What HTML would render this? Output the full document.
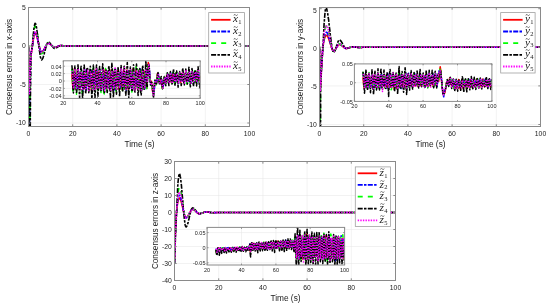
<!DOCTYPE html>
<html><head><meta charset="utf-8"><title>Consensus errors</title>
<style>
html,body{margin:0;padding:0;background:#fff;}
svg{display:block;font-family:"Liberation Sans","DejaVu Sans",sans-serif;}
</style></head><body>
<svg width="550" height="307" viewBox="0 0 550 307">
<rect width="550" height="307" fill="#fff"/>
<clipPath id="c1"><rect x="28.5" y="7.5" width="221.0" height="119.0"/></clipPath>
<rect x="28.5" y="7.5" width="221.0" height="119.0" fill="#fff"/>
<path d="M72.7 7.5V126.5M116.9 7.5V126.5M161.1 7.5V126.5M205.3 7.5V126.5M28.5 46H249.5M28.5 84.5H249.5M28.5 123H249.5" stroke="#e4e4e4" stroke-width="0.5" fill="none"/>
<path d="M28.5 46.8L28.5 51L28.6 55.3L28.6 59.6L28.7 63.8L28.7 67.9L28.8 71.9L28.8 75.6L28.9 79.1L28.9 82.3L28.9 85.1L29 87.5L29 89.5L29.1 91L29.1 91.9L29.2 92.2L29.2 92.1L29.3 91.9L29.3 91.6L29.3 91.2L29.4 90.6L29.4 90L29.5 89.2L29.5 88.4L29.6 87.5L29.6 86.5L29.6 85.4L29.7 84.3L29.7 83.1L29.8 81.9L29.8 80.7L29.9 79.4L29.9 78.1L30 76.8L30 75.4L30 74.1L30.1 72.7L30.1 71.4L30.2 70.1L30.2 68.8L30.3 67.6L30.3 66.3L30.4 65.2L30.4 64.1L30.4 63L30.5 62L30.5 61.1L30.6 60.3L30.6 59.5L30.7 58.9L30.7 58.3L30.8 57.8L30.8 57.4L30.8 56.9L30.9 56.5L30.9 56L31 55.6L31 55.2L31.1 54.8L31.1 54.5L31.2 54.1L31.2 53.7L31.2 53.4L31.3 53.1L31.3 52.7L31.4 52.4L31.4 52.1L31.5 51.8L31.5 51.5L31.5 51.2L31.6 50.9L31.6 50.6L31.7 50.3L31.7 50.1L31.8 49.8L31.8 49.5L31.9 49.2L31.9 49L31.9 48.7L32 48.4L32 48.1L32.1 47.9L32.1 47.6L32.2 47.3L32.2 47L32.3 46.7L32.3 46.4L32.3 46.2L32.4 45.8L32.4 45.5L32.5 45.2L32.5 44.9L32.6 44.6L32.6 44.3L32.7 44L32.7 43.6L32.7 43.3L32.8 43L32.8 42.7L32.9 42.4L32.9 42L33.1 40.5L33.4 39.1L33.6 37.8L33.8 36.9L34 36L34.2 35.2L34.5 34.5L34.7 33.8L34.9 33.4L35.1 33.3L35.4 33.4L35.6 33.5L35.8 33.8L36 34.3L36.2 34.8L36.5 35.3L36.7 36L36.9 36.7L37.1 37.5L37.3 38.4L37.6 39.3L37.8 40.2L38 41.1L38.2 42.1L38.4 43L38.7 44L38.9 44.9L39.1 45.8L39.3 46.7L39.6 47.5L39.8 48.3L40 49.1L40.2 49.7L40.4 50.3L40.7 50.8L40.9 51.2L41.1 51.5L41.3 51.7L41.5 51.8L41.8 51.7L42 51.7L42.2 51.6L42.4 51.4L42.6 51.2L42.9 51L43.1 50.7L43.3 50.4L43.5 50.1L43.7 49.7L44 49.4L44.2 49L44.4 48.6L44.6 48.2L44.9 47.8L45.1 47.4L45.3 47L45.5 46.6L45.7 46.2L46 45.8L46.2 45.5L46.4 45.1L46.6 44.8L46.8 44.5L47.1 44.2L47.3 44L47.5 43.8L47.7 43.6L47.9 43.5L48.2 43.4L48.4 43.4L48.6 43.4L48.8 43.5L49.1 43.5L49.3 43.6L49.5 43.7L49.7 43.9L49.9 44L50.2 44.2L50.4 44.3L50.6 44.5L50.8 44.7L51 44.9L51.3 45.1L51.5 45.3L51.7 45.5L51.9 45.7L52.1 45.9L52.4 46.1L52.6 46.3L52.8 46.5L53 46.6L53.3 46.8L53.5 46.9L53.7 47L53.9 47.1L54.1 47.2L54.4 47.2L54.6 47.2L54.8 47.2L55 47.2L55.2 47.2L55.5 47.1L55.7 47.1L55.9 47L56.1 47L56.3 46.9L56.6 46.8L56.8 46.7L57 46.6L57.2 46.6L57.5 46.5L57.7 46.4L57.9 46.3L58.1 46.2L58.3 46.1L58.6 46L58.8 45.9L59 45.9L59.2 45.8L59.4 45.7L59.7 45.7L59.9 45.6L60.1 45.6L60.3 45.6L60.5 45.5L60.8 45.5L61 45.5L61.2 45.5L61.4 45.6L61.7 45.6L61.9 45.6L62.1 45.6L62.3 45.6L62.5 45.7L62.8 45.7L63 45.7L63.2 45.7L63.4 45.8L63.6 45.8L63.9 45.8L64.1 45.9L64.3 45.9L64.5 45.9L64.7 46L65 46L65.2 46L65.4 46L65.6 46.1L65.8 46.1L66.1 46.1L66.3 46.1L66.5 46.1L66.7 46.1L67 46.2L67.2 46.2L67.4 46.2L67.6 46.2L67.8 46.1L68.1 46.1L68.3 46.1L68.5 46.1L68.7 46.1L68.9 46.1L69.2 46.1L69.4 46.1L69.6 46.1L69.8 46.1L70 46.1L70.3 46.1L70.5 46.1L70.7 46L70.9 46L71.2 46L71.4 46L71.6 46L71.8 46L72 46L72.3 46L72.5 46L72.7 46L77.1 46L81.5 46L86 46L90.4 46L94.8 46L99.2 46L103.6 46L108.1 46L112.5 46L116.9 46L121.3 46L125.7 46L130.2 46L134.6 46L139 46L143.4 46L147.8 46L152.3 46L156.7 46L161.1 46L165.5 46L169.9 46L174.4 46L178.8 46L183.2 46L187.6 46L192 46L196.5 46L200.9 46L205.3 46L209.7 46L214.1 46L218.6 46L223 46L227.4 46L231.8 46L236.2 46L240.7 46L245.1 46L249.5 46" fill="none" stroke="#ff0000" stroke-width="1.6" stroke-linejoin="round" clip-path="url(#c1)"/>
<path d="M28.5 47.5L28.5 70.3L28.6 94L28.6 116.5L28.7 135.4L28.7 148.6L28.8 153.8L28.8 154.2L28.9 154.6L28.9 155L28.9 155.3L29 155.6L29 155.9L29.1 156.1L29.1 156.4L29.2 156.6L29.2 156.8L29.3 156.9L29.3 157.1L29.3 157.2L29.4 157.3L29.4 157.4L29.5 157.5L29.5 157.5L29.6 157.6L29.6 157.6L29.6 157.6L29.7 157.6L29.7 157.3L29.8 154.4L29.8 149.2L29.9 142.3L29.9 134.2L30 125.3L30 116.4L30 107.9L30.1 100.4L30.1 94.4L30.2 90.3L30.2 86.4L30.3 82.7L30.3 79.1L30.4 75.7L30.4 72.5L30.4 69.5L30.5 66.8L30.5 64.4L30.6 62.3L30.6 60.5L30.7 59.2L30.7 58.3L30.8 57.7L30.8 57L30.8 56.5L30.9 55.9L30.9 55.4L31 54.9L31 54.4L31.1 54L31.1 53.5L31.2 53.1L31.2 52.8L31.2 52.4L31.3 52.1L31.3 51.8L31.4 51.5L31.4 51.2L31.5 50.9L31.5 50.7L31.5 50.4L31.6 50.2L31.6 49.9L31.7 49.7L31.7 49.5L31.8 49.3L31.8 49.1L31.9 48.8L31.9 48.6L31.9 48.4L32 48.2L32 48L32.1 47.7L32.1 47.5L32.2 47.3L32.2 47L32.3 46.7L32.3 46.5L32.3 46.2L32.4 45.8L32.4 45.5L32.5 45.2L32.5 44.9L32.6 44.5L32.6 44.2L32.7 43.9L32.7 43.5L32.7 43.2L32.8 42.9L32.8 42.5L32.9 42.2L32.9 41.8L33.1 40.2L33.4 38.7L33.6 37.3L33.8 36.3L34 35.4L34.2 34.5L34.5 33.8L34.7 33.1L34.9 32.7L35.1 32.5L35.4 32.6L35.6 32.8L35.8 33.1L36 33.5L36.2 34.1L36.5 34.7L36.7 35.4L36.9 36.2L37.1 37L37.3 37.9L37.6 38.9L37.8 39.8L38 40.8L38.2 41.8L38.4 42.9L38.7 43.9L38.9 44.9L39.1 45.8L39.3 46.8L39.6 47.7L39.8 48.5L40 49.3L40.2 50L40.4 50.6L40.7 51.1L40.9 51.6L41.1 51.9L41.3 52.1L41.5 52.2L41.8 52.1L42 52.1L42.2 51.9L42.4 51.8L42.6 51.5L42.9 51.3L43.1 51L43.3 50.7L43.5 50.4L43.7 50L44 49.6L44.2 49.2L44.4 48.8L44.6 48.4L44.9 47.9L45.1 47.5L45.3 47.1L45.5 46.7L45.7 46.3L46 45.9L46.2 45.5L46.4 45.1L46.6 44.8L46.8 44.5L47.1 44.2L47.3 43.9L47.5 43.7L47.7 43.5L47.9 43.4L48.2 43.3L48.4 43.3L48.6 43.3L48.8 43.4L49.1 43.4L49.3 43.5L49.5 43.6L49.7 43.8L49.9 43.9L50.2 44.1L50.4 44.3L50.6 44.5L50.8 44.7L51 44.9L51.3 45.1L51.5 45.3L51.7 45.5L51.9 45.7L52.1 45.9L52.4 46.1L52.6 46.3L52.8 46.5L53 46.7L53.3 46.8L53.5 46.9L53.7 47.1L53.9 47.1L54.1 47.2L54.4 47.3L54.6 47.3L54.8 47.3L55 47.2L55.2 47.2L55.5 47.2L55.7 47.1L55.9 47.1L56.1 47L56.3 46.9L56.6 46.9L56.8 46.8L57 46.7L57.2 46.6L57.5 46.5L57.7 46.4L57.9 46.3L58.1 46.2L58.3 46.1L58.6 46L58.8 46L59 45.9L59.2 45.8L59.4 45.7L59.7 45.7L59.9 45.6L60.1 45.6L60.3 45.6L60.5 45.5L60.8 45.5L61 45.5L61.2 45.5L61.4 45.6L61.7 45.6L61.9 45.6L62.1 45.6L62.3 45.6L62.5 45.7L62.8 45.7L63 45.7L63.2 45.7L63.4 45.8L63.6 45.8L63.9 45.8L64.1 45.9L64.3 45.9L64.5 45.9L64.7 46L65 46L65.2 46L65.4 46L65.6 46.1L65.8 46.1L66.1 46.1L66.3 46.1L66.5 46.1L66.7 46.1L67 46.2L67.2 46.2L67.4 46.2L67.6 46.2L67.8 46.1L68.1 46.1L68.3 46.1L68.5 46.1L68.7 46.1L68.9 46.1L69.2 46.1L69.4 46.1L69.6 46.1L69.8 46.1L70 46.1L70.3 46.1L70.5 46.1L70.7 46L70.9 46L71.2 46L71.4 46L71.6 46L71.8 46L72 46L72.3 46L72.5 46L72.7 46L77.1 46L81.5 46L86 46L90.4 46L94.8 46L99.2 46L103.6 46L108.1 46L112.5 46L116.9 46L121.3 46L125.7 46L130.2 46L134.6 46L139 46L143.4 46L147.8 46L152.3 46L156.7 46L161.1 46L165.5 46L169.9 46L174.4 46L178.8 46L183.2 46L187.6 46L192 46L196.5 46L200.9 46L205.3 46L209.7 46L214.1 46L218.6 46L223 46L227.4 46L231.8 46L236.2 46L240.7 46L245.1 46L249.5 46" fill="none" stroke="#0000ff" stroke-width="1.6" stroke-dasharray="5 1.3 2.5 1.3" stroke-linejoin="round" clip-path="url(#c1)"/>
<path d="M28.5 45.2L28.5 79.8L28.6 115L28.6 142.5L28.7 153.8L28.7 154.3L28.8 154.7L28.8 155L28.9 155.4L28.9 155.7L28.9 156L29 156.3L29 156.5L29.1 156.7L29.1 156.9L29.2 157L29.2 157.2L29.3 157.3L29.3 157.4L29.3 157.5L29.4 157.5L29.4 157.6L29.5 157.6L29.5 157.6L29.6 157.6L29.6 157.7L29.6 156.4L29.7 153L29.7 147.9L29.8 141.4L29.8 133.9L29.9 125.9L29.9 117.8L30 110L30 102.8L30 96.8L30.1 92.2L30.1 88.6L30.2 85L30.2 81.5L30.3 78.1L30.3 74.9L30.4 71.8L30.4 69L30.4 66.4L30.5 64.1L30.5 62.1L30.6 60.5L30.6 59.2L30.7 58.3L30.7 57.7L30.8 57.1L30.8 56.5L30.8 56L30.9 55.5L30.9 55L31 54.6L31 54.2L31.1 53.8L31.1 53.4L31.2 53L31.2 52.7L31.2 52.4L31.3 52.1L31.3 51.8L31.4 51.6L31.4 51.3L31.5 51.1L31.5 50.9L31.5 50.6L31.6 50.4L31.6 50.2L31.7 50L31.7 49.8L31.8 49.6L31.8 49.4L31.9 49.2L31.9 49L31.9 48.7L32 48.5L32 48.3L32.1 48L32.1 47.8L32.2 47.5L32.2 47.2L32.3 46.9L32.3 46.5L32.3 46.2L32.4 45.8L32.4 45.4L32.5 45L32.5 44.6L32.6 44.1L32.6 43.7L32.7 43.2L32.7 42.7L32.7 42.3L32.8 41.8L32.8 41.3L32.9 40.8L32.9 40.2L33.1 37.7L33.4 35.3L33.6 33.2L33.8 31.6L34 30.3L34.2 29L34.5 27.8L34.7 26.9L34.9 26.2L35.1 26L35.4 26.1L35.6 26.4L35.8 26.8L36 27.4L36.2 28.2L36.5 29L36.7 30L36.9 31.1L37.1 32.3L37.3 33.6L37.6 34.9L37.8 36.3L38 37.7L38.2 39.1L38.4 40.6L38.7 42L38.9 43.4L39.1 44.8L39.3 46.1L39.6 47.3L39.8 48.5L40 49.6L40.2 50.6L40.4 51.5L40.7 52.3L40.9 52.9L41.1 53.3L41.3 53.6L41.5 53.7L41.8 53.7L42 53.6L42.2 53.4L42.4 53.2L42.6 52.9L42.9 52.6L43.1 52.2L43.3 51.8L43.5 51.4L43.7 50.9L44 50.5L44.2 49.9L44.4 49.4L44.6 48.9L44.9 48.3L45.1 47.8L45.3 47.3L45.5 46.7L45.7 46.2L46 45.7L46.2 45.2L46.4 44.7L46.6 44.3L46.8 43.9L47.1 43.6L47.3 43.2L47.5 43L47.7 42.7L47.9 42.6L48.2 42.5L48.4 42.5L48.6 42.5L48.8 42.5L49.1 42.6L49.3 42.7L49.5 42.9L49.7 43L49.9 43.2L50.2 43.5L50.4 43.7L50.6 43.9L50.8 44.2L51 44.4L51.3 44.7L51.5 45L51.7 45.2L51.9 45.5L52.1 45.8L52.4 46L52.6 46.3L52.8 46.5L53 46.7L53.3 46.9L53.5 47.1L53.7 47.2L53.9 47.3L54.1 47.4L54.4 47.5L54.6 47.5L54.8 47.5L55 47.5L55.2 47.4L55.5 47.4L55.7 47.3L55.9 47.3L56.1 47.2L56.3 47.1L56.6 47L56.8 46.9L57 46.8L57.2 46.7L57.5 46.6L57.7 46.5L57.9 46.4L58.1 46.3L58.3 46.2L58.6 46.1L58.8 46L59 45.9L59.2 45.8L59.4 45.8L59.7 45.7L59.9 45.6L60.1 45.6L60.3 45.6L60.5 45.5L60.8 45.5L61 45.5L61.2 45.5L61.4 45.6L61.7 45.6L61.9 45.6L62.1 45.6L62.3 45.6L62.5 45.7L62.8 45.7L63 45.7L63.2 45.7L63.4 45.8L63.6 45.8L63.9 45.8L64.1 45.9L64.3 45.9L64.5 45.9L64.7 46L65 46L65.2 46L65.4 46L65.6 46.1L65.8 46.1L66.1 46.1L66.3 46.1L66.5 46.1L66.7 46.1L67 46.2L67.2 46.2L67.4 46.2L67.6 46.2L67.8 46.1L68.1 46.1L68.3 46.1L68.5 46.1L68.7 46.1L68.9 46.1L69.2 46.1L69.4 46.1L69.6 46.1L69.8 46.1L70 46.1L70.3 46.1L70.5 46.1L70.7 46L70.9 46L71.2 46L71.4 46L71.6 46L71.8 46L72 46L72.3 46L72.5 46L72.7 46L77.1 46L81.5 46L86 46L90.4 46L94.8 46L99.2 46L103.6 46L108.1 46L112.5 46L116.9 46L121.3 46L125.7 46L130.2 46L134.6 46L139 46L143.4 46L147.8 46L152.3 46L156.7 46L161.1 46L165.5 46L169.9 46L174.4 46L178.8 46L183.2 46L187.6 46L192 46L196.5 46L200.9 46L205.3 46L209.7 46L214.1 46L218.6 46L223 46L227.4 46L231.8 46L236.2 46L240.7 46L245.1 46L249.5 46" fill="none" stroke="#00ff00" stroke-width="1.6" stroke-dasharray="5 5.1" stroke-linejoin="round" clip-path="url(#c1)"/>
<path d="M28.5 47.2L28.5 57.4L28.6 67.7L28.6 77.8L28.7 87.7L28.7 97.2L28.8 106.3L28.8 114.9L28.9 122.9L28.9 130.1L28.9 136.6L29 142.2L29 146.8L29.1 150.3L29.1 152.7L29.2 153.8L29.2 154.2L29.3 154.6L29.3 155L29.3 155.4L29.4 155.7L29.4 156L29.5 156.3L29.5 156.5L29.6 156.7L29.6 156.9L29.6 157.1L29.7 157.3L29.7 157.4L29.8 157.5L29.8 157.6L29.9 157.6L29.9 157.6L30 157.4L30 155.7L30 152.5L30.1 148L30.1 142.5L30.2 136.3L30.2 129.6L30.3 122.6L30.3 115.6L30.4 108.8L30.4 102.5L30.4 96.8L30.5 92.2L30.5 88L30.6 83.7L30.6 79.4L30.7 75.2L30.7 71.2L30.8 67.5L30.8 64.2L30.8 61.6L30.9 59.5L30.9 58.3L31 57.6L31 56.8L31.1 56.2L31.1 55.6L31.2 55L31.2 54.4L31.2 53.9L31.3 53.5L31.3 53.1L31.4 52.7L31.4 52.3L31.5 51.9L31.5 51.6L31.5 51.3L31.6 51L31.6 50.8L31.7 50.5L31.7 50.2L31.8 50L31.8 49.8L31.9 49.5L31.9 49.3L31.9 49L32 48.8L32 48.5L32.1 48.3L32.1 48L32.2 47.7L32.2 47.3L32.3 47L32.3 46.6L32.3 46.2L32.4 45.8L32.4 45.3L32.5 44.9L32.5 44.4L32.6 43.9L32.6 43.3L32.7 42.8L32.7 42.3L32.7 41.7L32.8 41.2L32.8 40.6L32.9 40L32.9 39.4L33.1 36.6L33.4 33.8L33.6 31.5L33.8 29.6L34 28.1L34.2 26.7L34.5 25.4L34.7 24.3L34.9 23.6L35.1 23.3L35.4 23.4L35.6 23.8L35.8 24.4L36 25.2L36.2 26.2L36.5 27.3L36.7 28.6L36.9 30.1L37.1 31.7L37.3 33.3L37.6 35.1L37.8 36.9L38 38.7L38.2 40.6L38.4 42.5L38.7 44.4L38.9 46.3L39.1 48.1L39.3 49.8L39.6 51.5L39.8 53L40 54.5L40.2 55.8L40.4 57L40.7 58L40.9 58.8L41.1 59.4L41.3 59.7L41.5 59.9L41.8 59.8L42 59.6L42.2 59.4L42.4 59L42.6 58.6L42.9 58.1L43.1 57.6L43.3 56.9L43.5 56.2L43.7 55.5L44 54.7L44.2 53.9L44.4 53.1L44.6 52.3L44.9 51.4L45.1 50.6L45.3 49.7L45.5 48.8L45.7 48L46 47.2L46.2 46.5L46.4 45.7L46.6 45L46.8 44.4L47.1 43.8L47.3 43.3L47.5 42.9L47.7 42.6L47.9 42.3L48.2 42.2L48.4 42.1L48.6 42.1L48.8 42.2L49.1 42.3L49.3 42.4L49.5 42.6L49.7 42.8L49.9 43.1L50.2 43.3L50.4 43.6L50.6 43.9L50.8 44.2L51 44.6L51.3 44.9L51.5 45.2L51.7 45.6L51.9 45.9L52.1 46.2L52.4 46.6L52.6 46.9L52.8 47.1L53 47.4L53.3 47.6L53.5 47.9L53.7 48L53.9 48.2L54.1 48.3L54.4 48.4L54.6 48.4L54.8 48.4L55 48.3L55.2 48.3L55.5 48.2L55.7 48.1L55.9 48.1L56.1 47.9L56.3 47.8L56.6 47.7L56.8 47.6L57 47.4L57.2 47.3L57.5 47.1L57.7 47L57.9 46.8L58.1 46.7L58.3 46.5L58.6 46.4L58.8 46.2L59 46.1L59.2 46L59.4 45.9L59.7 45.8L59.9 45.7L60.1 45.6L60.3 45.6L60.5 45.5L60.8 45.5L61 45.5L61.2 45.5L61.4 45.6L61.7 45.6L61.9 45.6L62.1 45.6L62.3 45.6L62.5 45.7L62.8 45.7L63 45.7L63.2 45.7L63.4 45.8L63.6 45.8L63.9 45.8L64.1 45.9L64.3 45.9L64.5 45.9L64.7 46L65 46L65.2 46L65.4 46L65.6 46.1L65.8 46.1L66.1 46.1L66.3 46.1L66.5 46.1L66.7 46.1L67 46.2L67.2 46.2L67.4 46.2L67.6 46.2L67.8 46.1L68.1 46.1L68.3 46.1L68.5 46.1L68.7 46.1L68.9 46.1L69.2 46.1L69.4 46.1L69.6 46.1L69.8 46.1L70 46.1L70.3 46.1L70.5 46.1L70.7 46L70.9 46L71.2 46L71.4 46L71.6 46L71.8 46L72 46L72.3 46L72.5 46L72.7 46L77.1 46L81.5 46L86 46L90.4 46L94.8 46L99.2 46L103.6 46L108.1 46L112.5 46L116.9 46L121.3 46L125.7 46L130.2 46L134.6 46L139 46L143.4 46L147.8 46L152.3 46L156.7 46L161.1 46L165.5 46L169.9 46L174.4 46L178.8 46L183.2 46L187.6 46L192 46L196.5 46L200.9 46L205.3 46L209.7 46L214.1 46L218.6 46L223 46L227.4 46L231.8 46L236.2 46L240.7 46L245.1 46L249.5 46" fill="none" stroke="#000000" stroke-width="1.6" stroke-dasharray="5 1.3 2.5 1.3" stroke-linejoin="round" clip-path="url(#c1)"/>
<path d="M28.5 46L28.5 50L28.6 54L28.6 58L28.7 61.9L28.7 65.7L28.8 69.4L28.8 73L28.9 76.3L28.9 79.4L28.9 82.3L29 85L29 87.3L29.1 89.4L29.1 91L29.2 92.3L29.2 93.2L29.3 93.7L29.3 93.7L29.3 93.6L29.4 93.3L29.4 92.8L29.5 92.3L29.5 91.6L29.6 90.8L29.6 89.9L29.6 88.9L29.7 87.8L29.7 86.6L29.8 85.4L29.8 84.1L29.9 82.8L29.9 81.4L30 80L30 78.6L30 77.1L30.1 75.6L30.1 74.2L30.2 72.7L30.2 71.2L30.3 69.8L30.3 68.4L30.4 67.1L30.4 65.8L30.4 64.6L30.5 63.4L30.5 62.3L30.6 61.3L30.6 60.4L30.7 59.6L30.7 58.9L30.8 58.3L30.8 57.8L30.8 57.3L30.9 56.9L30.9 56.4L31 56L31 55.5L31.1 55.1L31.1 54.7L31.2 54.4L31.2 54L31.2 53.6L31.3 53.3L31.3 53L31.4 52.6L31.4 52.3L31.5 52L31.5 51.7L31.5 51.4L31.6 51.1L31.6 50.8L31.7 50.5L31.7 50.2L31.8 50L31.8 49.7L31.9 49.4L31.9 49.1L31.9 48.8L32 48.6L32 48.3L32.1 48L32.1 47.7L32.2 47.4L32.2 47.1L32.3 46.8L32.3 46.5L32.3 46.2L32.4 45.8L32.4 45.5L32.5 45.2L32.5 44.8L32.6 44.4L32.6 44.1L32.7 43.7L32.7 43.4L32.7 43L32.8 42.6L32.8 42.3L32.9 41.9L32.9 41.5L33.1 39.7L33.4 38.1L33.6 36.6L33.8 35.5L34 34.5L34.2 33.6L34.5 32.7L34.7 32L34.9 31.5L35.1 31.4L35.4 31.4L35.6 31.7L35.8 32L36 32.5L36.2 33L36.5 33.7L36.7 34.5L36.9 35.3L37.1 36.2L37.3 37.2L37.6 38.2L37.8 39.2L38 40.3L38.2 41.4L38.4 42.5L38.7 43.6L38.9 44.7L39.1 45.7L39.3 46.7L39.6 47.7L39.8 48.6L40 49.4L40.2 50.2L40.4 50.9L40.7 51.4L40.9 51.9L41.1 52.3L41.3 52.5L41.5 52.5L41.8 52.5L42 52.4L42.2 52.3L42.4 52.1L42.6 51.9L42.9 51.6L43.1 51.3L43.3 51L43.5 50.6L43.7 50.2L44 49.8L44.2 49.4L44.4 49L44.6 48.5L44.9 48.1L45.1 47.6L45.3 47.2L45.5 46.7L45.7 46.3L46 45.9L46.2 45.5L46.4 45.1L46.6 44.7L46.8 44.4L47.1 44.1L47.3 43.8L47.5 43.6L47.7 43.4L47.9 43.3L48.2 43.2L48.4 43.2L48.6 43.2L48.8 43.2L49.1 43.3L49.3 43.4L49.5 43.5L49.7 43.7L49.9 43.8L50.2 44L50.4 44.2L50.6 44.4L50.8 44.6L51 44.8L51.3 45L51.5 45.2L51.7 45.5L51.9 45.7L52.1 45.9L52.4 46.1L52.6 46.3L52.8 46.5L53 46.7L53.3 46.8L53.5 47L53.7 47.1L53.9 47.2L54.1 47.3L54.4 47.3L54.6 47.3L54.8 47.3L55 47.3L55.2 47.3L55.5 47.2L55.7 47.2L55.9 47.1L56.1 47.1L56.3 47L56.6 46.9L56.8 46.8L57 46.7L57.2 46.6L57.5 46.5L57.7 46.4L57.9 46.3L58.1 46.2L58.3 46.2L58.6 46.1L58.8 46L59 45.9L59.2 45.8L59.4 45.7L59.7 45.7L59.9 45.6L60.1 45.6L60.3 45.6L60.5 45.5L60.8 45.5L61 45.5L61.2 45.5L61.4 45.6L61.7 45.6L61.9 45.6L62.1 45.6L62.3 45.6L62.5 45.7L62.8 45.7L63 45.7L63.2 45.7L63.4 45.8L63.6 45.8L63.9 45.8L64.1 45.9L64.3 45.9L64.5 45.9L64.7 46L65 46L65.2 46L65.4 46L65.6 46.1L65.8 46.1L66.1 46.1L66.3 46.1L66.5 46.1L66.7 46.1L67 46.2L67.2 46.2L67.4 46.2L67.6 46.2L67.8 46.1L68.1 46.1L68.3 46.1L68.5 46.1L68.7 46.1L68.9 46.1L69.2 46.1L69.4 46.1L69.6 46.1L69.8 46.1L70 46.1L70.3 46.1L70.5 46.1L70.7 46L70.9 46L71.2 46L71.4 46L71.6 46L71.8 46L72 46L72.3 46L72.5 46L72.7 46L77.1 46L81.5 46L86 46L90.4 46L94.8 46L99.2 46L103.6 46L108.1 46L112.5 46L116.9 46L121.3 46L125.7 46L130.2 46L134.6 46L139 46L143.4 46L147.8 46L152.3 46L156.7 46L161.1 46L165.5 46L169.9 46L174.4 46L178.8 46L183.2 46L187.6 46L192 46L196.5 46L200.9 46L205.3 46L209.7 46L214.1 46L218.6 46L223 46L227.4 46L231.8 46L236.2 46L240.7 46L245.1 46L249.5 46" fill="none" stroke="#ff00ff" stroke-width="1.6" stroke-dasharray="1.4 1.2" stroke-linejoin="round" clip-path="url(#c1)"/>
<path d="M28.5 126.5v-2.2M28.5 7.5v2.2M72.7 126.5v-2.2M72.7 7.5v2.2M116.9 126.5v-2.2M116.9 7.5v2.2M161.1 126.5v-2.2M161.1 7.5v2.2M205.3 126.5v-2.2M205.3 7.5v2.2M249.5 126.5v-2.2M249.5 7.5v2.2M28.5 7.5h2.2M249.5 7.5h-2.2M28.5 46h2.2M249.5 46h-2.2M28.5 84.5h2.2M249.5 84.5h-2.2M28.5 123h2.2M249.5 123h-2.2" stroke="#8a8a8a" stroke-width="1" fill="none"/>
<rect x="28.5" y="7.5" width="221.0" height="119.0" fill="none" stroke="#8a8a8a" stroke-width="1"/>
<g font-size="6.8" fill="#222222" text-anchor="middle">
<text x="28.5" y="136.2">0</text>
<text x="72.7" y="136.2">20</text>
<text x="116.9" y="136.2">40</text>
<text x="161.1" y="136.2">60</text>
<text x="205.3" y="136.2">80</text>
<text x="249.5" y="136.2">100</text>
</g>
<g font-size="6.8" fill="#222222" text-anchor="end">
<text x="25.8" y="9.9">5</text>
<text x="25.8" y="48.4">0</text>
<text x="25.8" y="86.9">-5</text>
<text x="25.8" y="125.4">-10</text>
</g>
<text x="139.5" y="147.1" font-size="8.3" fill="#222222" text-anchor="middle">Time (s)</text>
<text transform="translate(11.7 67) rotate(-90)" font-size="8.15" fill="#222222" text-anchor="middle">Consensus errors in x-axis</text>
<clipPath id="i1"><rect x="63.3" y="60.8" width="136.89999999999998" height="37.60000000000001"/></clipPath>
<rect x="63.3" y="60.8" width="136.89999999999998" height="37.60000000000001" fill="#fff"/>
<path d="M97.5 60.8V98.4M131.8 60.8V98.4M166 60.8V98.4M63.3 66.2H200.2M63.3 73.6H200.2M63.3 81H200.2M63.3 88.4H200.2M63.3 95.8H200.2" stroke="#e4e4e4" stroke-width="0.5" fill="none"/>
<path d="M71.9 73.9L72.4 82.1L72.9 88.8L73.4 87.2L73.9 75.3L74.4 68.6L74.9 72.6L75.4 84.1L76 89.1L76.5 85.7L77 76.6L77.5 69.6L78 72.6L78.5 81.9L79 86.7L79.6 83.4L80.1 76.8L80.6 72L81.1 75.3L81.6 82.6L82.1 85.8L82.6 84.2L83.2 76.6L83.7 70.9L84.2 74.6L84.7 82.7L85.2 88.8L85.7 87.1L86.2 75.7L86.7 71.4L87.3 73L87.8 82.4L88.3 85.5L88.8 84.6L89.3 77.1L89.8 71.6L90.3 73.6L90.9 82.3L91.4 90.2L91.9 85.8L92.4 76.1L92.9 71.6L93.4 75.4L93.9 80.9L94.4 88.2L95 85.8L95.5 75.6L96 69.9L96.5 73.3L97 82.3L97.5 87.2L98 83.7L98.6 75.9L99.1 71L99.6 74.6L100.1 83.5L100.6 90L101.1 85.9L101.6 77.2L102.1 72.9L102.7 74.7L103.2 84L103.7 90.1L104.2 84.9L104.7 76.9L105.2 69.5L105.7 73.9L106.3 84.2L106.8 89.2L107.3 84.9L107.8 77L108.3 72.2L108.8 74.5L109.3 84.6L109.8 89L110.4 87.5L110.9 76.4L111.4 69.7L111.9 72.8L112.4 81.4L112.9 90L113.4 84.4L114 75.5L114.5 70.8L115 75.8L115.5 82.3L116 86.2L116.5 86.6L117 76.1L117.5 70.3L118.1 75.3L118.6 82.3L119.1 89.3L119.6 86L120.1 77.4L120.6 71.2L121.1 74.7L121.7 82.1L122.2 90L122.7 86.1L123.2 75.2L123.7 69.5L124.2 75L124.7 82.5L125.2 88.8L125.8 84.5L126.3 76.4L126.8 70L127.3 74.1L127.8 84.8L128.3 89.4L128.8 84.1L129.4 77L129.9 70.4L130.4 74.2L130.9 83.7L131.4 87L131.9 85.7L132.4 78.7L132.9 68.9L133.5 75.9L134 82.5L134.5 87.5L135 84.9L135.5 78.4L136 70.4L136.5 75.9L137.1 84.4L137.6 89.3L138.1 85L138.6 76.2L139.1 70.3L139.6 75L140.1 83.4L140.6 90.5L141.2 86.5L141.7 75.8L142.2 71.7L142.7 74.6L143.2 83.5L143.7 89.3L144.2 85.8L144.8 76.7L145.3 70.5L145.8 74.4L146.3 81.3L146.8 88.5L147.3 78.3L147.8 66.1L148.3 62.4L148.9 65.7L149.4 74.4L149.9 79.7L150.4 80.9L150.9 80.8L151.4 81.8L151.9 85.1L152.5 90.9L153 93.6L153.5 92.5L154 87.9L154.5 84.8L155 83.7L155.5 84L156 84.1L156.6 81.7L157.1 75.6L157.6 73.2L158.1 75.1L158.6 79.5L159.1 81.5L159.6 82.1L160.2 79.7L160.7 78.8L161.2 80.5L161.7 85.2L162.2 88.4L162.7 86.1L163.2 81.9L163.8 78.8L164.3 80L164.8 82.5L165.3 83.4L165.8 81.3L166.3 77.2L166.8 74.9L167.3 77.2L167.9 80L168.4 81.5L168.9 80.6L169.4 77.2L169.9 74.1L170.4 75.7L170.9 79.7L171.5 82.8L172 80.5L172.5 76.3L173 74L173.5 75.1L174 79.3L174.5 82.4L175 80.7L175.6 77.5L176.1 73.2L176.6 75.4L177.1 80.5L177.6 82.6L178.1 80.2L178.6 76.2L179.2 74.1L179.7 75.1L180.2 79.8L180.7 82.5L181.2 79.9L181.7 75.8L182.2 73.1L182.7 74L183.3 79.8L183.8 82.3L184.3 79.8L184.8 75L185.3 73.4L185.8 74.1L186.3 79.2L186.9 81.4L187.4 80.1L187.9 76.5L188.4 72.8L188.9 74L189.4 78.9L189.9 81.6L190.4 79.2L191 76.2L191.5 73.6L192 74.8L192.5 79.3L193 80.8L193.5 79.8L194 75.6L194.6 72.4L195.1 72.1L195.6 79.1L196.1 82.7L196.6 80.2L197.1 74.2L197.6 70.8L198.1 73.6L198.7 79.4L199.2 81.8L199.7 80L200.2 75.6" fill="none" stroke="#ff0000" stroke-width="1.5" stroke-linejoin="round" clip-path="url(#i1)"/>
<path d="M71.9 69.8L72.4 69.9L72.9 77.4L73.4 84.3L73.9 86.4L74.4 81.1L74.9 71.9L75.4 72.7L76 77.5L76.5 86.5L77 89.9L77.5 79.7L78 73.7L78.5 70.2L79 78.3L79.6 86.2L80.1 87.2L80.6 82.1L81.1 74.6L81.6 71.1L82.1 77L82.6 87.7L83.2 90.2L83.7 81L84.2 73.8L84.7 69.6L85.2 79.1L85.7 87.8L86.2 90L86.7 82.4L87.3 73.7L87.8 73.3L88.3 78.1L88.8 87L89.3 88.4L89.8 82L90.3 71.4L90.9 70.5L91.4 77.3L91.9 87L92.4 89.9L92.9 80.7L93.4 72.1L93.9 70.6L94.4 78.5L95 86.9L95.5 87.2L96 78.9L96.5 73.5L97 70.6L97.5 78.5L98 85.4L98.6 88.1L99.1 80.3L99.6 74.1L100.1 70L100.6 78.8L101.1 87.9L101.6 90.1L102.1 82.1L102.7 71.7L103.2 68.4L103.7 81L104.2 88.1L104.7 89.1L105.2 81.5L105.7 72.5L106.3 71.9L106.8 79L107.3 86.5L107.8 87.6L108.3 81.3L108.8 73.5L109.3 70.7L109.8 78.3L110.4 86.6L110.9 89.4L111.4 82.3L111.9 70.6L112.4 70.2L112.9 76.9L113.4 86.8L114 91.3L114.5 81.2L115 72.3L115.5 69L116 77.1L116.5 86.4L117 87L117.5 81.9L118.1 72.9L118.6 71.3L119.1 78.2L119.6 87.2L120.1 88L120.6 81.9L121.1 72.7L121.7 70.6L122.2 78.7L122.7 88.5L123.2 87.4L123.7 80L124.2 73.7L124.7 73.3L125.2 78L125.8 84.8L126.3 90.8L126.8 81.1L127.3 71.7L127.8 70.5L128.3 77.4L128.8 89.3L129.4 89.4L129.9 80.2L130.4 71.5L130.9 71.6L131.4 80.2L131.9 87.5L132.4 89.6L132.9 79.5L133.5 73.6L134 73.2L134.5 79.8L135 87.1L135.5 87.8L136 82.7L136.5 71.7L137.1 72.9L137.6 79.3L138.1 85.8L138.6 87.1L139.1 80.2L139.6 71.5L140.1 68.7L140.6 77.7L141.2 88L141.7 89.4L142.2 82.6L142.7 74.6L143.2 71.5L143.7 79.6L144.2 85.2L144.8 89L145.3 82.9L145.8 71.4L146.3 70L146.8 78.2L147.3 79.3L147.8 75.2L148.3 69.9L148.9 65.2L149.4 69.2L149.9 75.9L150.4 81.7L150.9 85.1L151.4 84.8L151.9 85.2L152.5 86.8L153 90.9L153.5 94.4L154 92.2L154.5 87.5L155 83L155.5 80.2L156 80.4L156.6 81.2L157.1 80.6L157.6 76.8L158.1 74.8L158.6 74.1L159.1 78.3L159.6 81.7L160.2 83.5L160.7 82.1L161.2 79.7L161.7 80.1L162.2 83.6L162.7 87.4L163.2 86.6L163.8 83.4L164.3 79.2L164.8 77.1L165.3 78.9L165.8 82.5L166.3 83.4L166.8 79.8L167.3 75.7L167.9 73.8L168.4 77.5L168.9 81L169.4 82.4L169.9 79.5L170.4 73.9L170.9 73L171.5 77.2L172 81.6L172.5 81.8L173 79.1L173.5 74.5L174 74.1L174.5 77.7L175 81.8L175.6 82.3L176.1 77.8L176.6 75.3L177.1 74L177.6 77.7L178.1 82.9L178.6 83.4L179.2 78.4L179.7 75.3L180.2 73.2L180.7 76.2L181.2 81.4L181.7 81.2L182.2 78.4L182.7 73.2L183.3 73.1L183.8 76.1L184.3 81.9L184.8 81.6L185.3 78.5L185.8 74.3L186.3 72.9L186.9 76.5L187.4 81.1L187.9 81.5L188.4 77.7L188.9 74.2L189.4 71.7L189.9 75.7L190.4 82.5L191 82.9L191.5 79L192 71.3L192.5 71.3L193 76L193.5 80.6L194 82.7L194.6 77.6L195.1 72.4L195.6 70.9L196.1 76.5L196.6 82L197.1 82L197.6 77.6L198.1 71.8L198.7 72.2L199.2 76.3L199.7 80.8L200.2 81.3" fill="none" stroke="#0000ff" stroke-width="1.5" stroke-dasharray="5 1.3 2.5 1.3" stroke-linejoin="round" clip-path="url(#i1)"/>
<path d="M71.9 68.7L72.4 80.8L72.9 90.9L73.4 89.8L73.9 80L74.4 69.4L74.9 68.5L75.4 82.4L76 92.1L76.5 94.3L77 78.2L77.5 67.1L78 69.4L78.5 80L79 87.5L79.6 87.8L80.1 79.5L80.6 72.3L81.1 68.2L81.6 80.4L82.1 93.1L82.6 91.6L83.2 79.3L83.7 67.4L84.2 71L84.7 81.1L85.2 85.2L85.7 87.7L86.2 80.1L86.7 72.9L87.3 72.6L87.8 77.5L88.3 88.3L88.8 89.1L89.3 80.5L89.8 68.9L90.3 71.3L90.9 78.5L91.4 89.6L91.9 90.7L92.4 81L92.9 68.6L93.4 67.6L93.9 79.4L94.4 90.7L95 91.6L95.5 79.7L96 70.6L96.5 70.4L97 79.4L97.5 90.6L98 88L98.6 79.6L99.1 70L99.6 69L100.1 78.2L100.6 90.3L101.1 92.5L101.6 78.3L102.1 68.4L102.7 68.4L103.2 82.3L103.7 92.9L104.2 94L104.7 80.8L105.2 68.4L105.7 68.8L106.3 78.1L106.8 90.6L107.3 92.2L107.8 80.4L108.3 70.5L108.8 69.7L109.3 79.4L109.8 89.5L110.4 88.3L110.9 79.9L111.4 70.4L111.9 71.2L112.4 78.9L112.9 88.4L113.4 88.4L114 80.5L114.5 71.1L115 69.4L115.5 79.1L116 91.2L116.5 92L117 80.6L117.5 69.4L118.1 70.2L118.6 80.5L119.1 88.3L119.6 88.8L120.1 79L120.6 71.1L121.1 71.4L121.7 81L122.2 88.2L122.7 92.7L123.2 80.6L123.7 69.1L124.2 66.6L124.7 79.5L125.2 91.6L125.8 91.9L126.3 81L126.8 70.5L127.3 70.7L127.8 79.8L128.3 89.7L128.8 89.4L129.4 78.8L129.9 71.3L130.4 69.1L130.9 77.4L131.4 90.1L131.9 92L132.4 79.3L132.9 70.6L133.5 69.9L134 77.6L134.5 87.2L135 92.1L135.5 79.2L136 66.7L136.5 69.1L137.1 79.2L137.6 87.1L138.1 89L138.6 79.5L139.1 69.4L139.6 70.4L140.1 79.1L140.6 90.5L141.2 88.7L141.7 77.4L142.2 69.6L142.7 70.9L143.2 79L143.7 90.5L144.2 91.3L144.8 82.6L145.3 68.6L145.8 70.9L146.3 78.6L146.8 89.5L147.3 82L147.8 68.5L148.3 63L148.9 65L149.4 72.8L149.9 80.3L150.4 82.4L150.9 81.8L151.4 81.8L151.9 84.5L152.5 89.3L153 94.2L153.5 94.6L154 88.9L154.5 83.3L155 82.6L155.5 83.3L156 85.1L156.6 82.3L157.1 77.4L157.6 73.5L158.1 74.6L158.6 77.7L159.1 82.3L159.6 83.9L160.2 80.4L160.7 78.3L161.2 79.1L161.7 82.4L162.2 88.7L162.7 87.9L163.2 83.7L163.8 78.7L164.3 77.2L164.8 80.4L165.3 84.1L165.8 84L166.3 80L166.8 74.3L167.3 73.2L167.9 78L168.4 82.6L168.9 81.7L169.4 78.7L169.9 74.1L170.4 74.3L170.9 78.4L171.5 83L172 83.4L172.5 77.9L173 72.2L173.5 72.3L174 78.2L174.5 83.1L175 83L175.6 78.7L176.1 73.1L176.6 72.4L177.1 77.7L177.6 82.7L178.1 82.7L178.6 78.1L179.2 73.9L179.7 72.4L180.2 77L180.7 82.7L181.2 82.9L181.7 78.2L182.2 72.7L182.7 71.5L183.3 76.8L183.8 82L184.3 82.1L184.8 76.9L185.3 71.4L185.8 71.2L186.3 77.3L186.9 84.3L187.4 83.3L187.9 76.2L188.4 72.6L188.9 72.8L189.4 76.4L189.9 82.2L190.4 82.9L191 76.2L191.5 70.8L192 70.2L192.5 77.3L193 82.4L193.5 82.4L194 76.5L194.6 70.8L195.1 70.8L195.6 76.6L196.1 82.5L196.6 84.7L197.1 76.4L197.6 70L198.1 71L198.7 77.1L199.2 82.3L199.7 83.3L200.2 76.5" fill="none" stroke="#00ff00" stroke-width="1.5" stroke-dasharray="5 5.1" stroke-linejoin="round" clip-path="url(#i1)"/>
<path d="M71.9 65.2L72.4 71.5L72.9 87.3L73.4 92.9L73.9 88.2L74.4 73.8L74.9 65.9L75.4 75.4L76 87.6L76.5 92.5L77 88.7L77.5 73.9L78 64.1L78.5 73.5L79 86.9L79.6 98L80.1 86.4L80.6 70.2L81.1 66.3L81.6 71.5L82.1 88.9L82.6 99.4L83.2 88.3L83.7 72.5L84.2 65L84.7 71.1L85.2 88.2L85.7 93.9L86.2 86L86.7 70L87.3 67.4L87.8 69.4L88.3 87.8L88.8 92.8L89.3 87.8L89.8 74L90.3 66.3L90.9 70.3L91.4 87.8L91.9 101.6L92.4 87.2L92.9 73.9L93.4 65L93.9 73.4L94.4 90.8L95 97.9L95.5 89.1L96 73L96.5 65L97 72.6L97.5 90L98 96.2L98.6 85.6L99.1 71.1L99.6 66.5L100.1 71.9L100.6 85.1L101.1 91.7L101.6 84.3L102.1 72.4L102.7 63.8L103.2 69.1L103.7 85.2L104.2 93.3L104.7 91.6L105.2 72.1L105.7 69.4L106.3 71.1L106.8 86.5L107.3 92.4L107.8 86.6L108.3 70.6L108.8 65.7L109.3 70.1L109.8 87.4L110.4 97.6L110.9 88.2L111.4 70.3L111.9 63.3L112.4 69.5L112.9 87.4L113.4 97.5L114 86.5L114.5 71L115 69L115.5 73.5L116 86.9L116.5 94.2L117 85.8L117.5 74.4L118.1 66.7L118.6 71.8L119.1 87.3L119.6 96.8L120.1 84.2L120.6 73.1L121.1 65.6L121.7 74.9L122.2 85.9L122.7 91.7L123.2 84.7L123.7 73.8L124.2 66.2L124.7 70.2L125.2 87.9L125.8 95.2L126.3 89.7L126.8 69.4L127.3 62.4L127.8 70.8L128.3 89.7L128.8 97.8L129.4 87.6L129.9 72.1L130.4 67L130.9 73.7L131.4 85.9L131.9 90.3L132.4 90.4L132.9 74.1L133.5 64.7L134 72.9L134.5 90.1L135 92.1L135.5 86.9L136 72.4L136.5 64.1L137.1 71.3L137.6 87.8L138.1 95.5L138.6 88.8L139.1 71.5L139.6 68.5L140.1 70.9L140.6 92L141.2 94.9L141.7 89.4L142.2 70.5L142.7 65.3L143.2 69.1L143.7 89.5L144.2 89.1L144.8 86.4L145.3 71.6L145.8 60.8L146.3 68L146.8 85.7L147.3 87.6L147.8 70.8L148.3 63.6L148.9 63.6L149.4 69.2L149.9 80L150.4 84.9L150.9 84.4L151.4 82.4L151.9 82.3L152.5 87.9L153 94L153.5 98L154 92.2L154.5 83.2L155 79.9L155.5 81.3L156 83.5L156.6 83.8L157.1 79.3L157.6 73.9L158.1 72.6L158.6 75.7L159.1 81.7L159.6 84.9L160.2 83.1L160.7 79.2L161.2 76.4L161.7 80.6L162.2 86.8L162.7 88.7L163.2 86.5L163.8 79.4L164.3 76.5L164.8 78.4L165.3 83.5L165.8 85.7L166.3 81.8L166.8 75.7L167.3 72.7L167.9 74.9L168.4 82.4L168.9 85.6L169.4 81.8L169.9 74.5L170.4 71.5L170.9 74.5L171.5 81.9L172 84.1L172.5 82.1L173 74.4L173.5 68.8L174 73.8L174.5 83L175 85.2L175.6 81.2L176.1 73.4L176.6 70.8L177.1 73.9L177.6 82.2L178.1 87.3L178.6 80.7L179.2 74.5L179.7 71.6L180.2 74.5L180.7 80.2L181.2 85.6L181.7 82.4L182.2 73.2L182.7 68.1L183.3 72.4L183.8 83.2L184.3 84.9L184.8 81.9L185.3 73.8L185.8 69L186.3 72.6L186.9 79.6L187.4 84L187.9 80.7L188.4 73.7L188.9 67.2L189.4 71.7L189.9 83.2L190.4 86.8L191 81L191.5 74.2L192 68.4L192.5 71.9L193 83.1L193.5 86.5L194 81.2L194.6 71.9L195.1 70.3L195.6 71.4L196.1 81.3L196.6 86L197.1 80.7L197.6 71.5L198.1 66.8L198.7 73.6L199.2 82.9L199.7 87.5L200.2 81.6" fill="none" stroke="#000000" stroke-width="1.5" stroke-dasharray="5 1.3 2.5 1.3" stroke-linejoin="round" clip-path="url(#i1)"/>
<path d="M71.9 71L72.4 74.2L72.9 82.6L73.4 87.5L73.9 88.6L74.4 76.9L74.9 68.7L75.4 71.9L76 82.4L76.5 88.6L77 88.5L77.5 77.9L78 68.7L78.5 71.9L79 81.7L79.6 89.7L80.1 88.7L80.6 78.1L81.1 71.3L81.6 73.9L82.1 81.8L82.6 90.5L83.2 88.7L83.7 80.1L84.2 68.8L84.7 70.8L85.2 80.6L85.7 88.7L86.2 88.5L86.7 77.8L87.3 72.3L87.8 69.4L88.3 82.1L88.8 90.4L89.3 90L89.8 79.2L90.3 71.8L90.9 71.7L91.4 80.6L91.9 88.5L92.4 89.5L92.9 76.5L93.4 70.7L93.9 69.2L94.4 79.5L95 90.1L95.5 87.1L96 79.3L96.5 67.8L97 72.3L97.5 80.1L98 88.8L98.6 87L99.1 79.2L99.6 69.4L100.1 70.8L100.6 81.4L101.1 89.5L101.6 87.9L102.1 77.5L102.7 70.1L103.2 69L103.7 82.3L104.2 89.9L104.7 90.7L105.2 78.9L105.7 70.2L106.3 71.9L106.8 78.2L107.3 87.9L107.8 89.6L108.3 79.3L108.8 72.1L109.3 70.7L109.8 80.2L110.4 89.7L110.9 90L111.4 78.7L111.9 71.6L112.4 73L112.9 81L113.4 87.7L114 89L114.5 77.7L115 66.8L115.5 70.8L116 82L116.5 89.1L117 87.1L117.5 77.9L118.1 71.4L118.6 73.2L119.1 81.2L119.6 88.3L120.1 85.3L120.6 77L121.1 68.2L121.7 69.3L122.2 79.7L122.7 87.4L123.2 87L123.7 78.2L124.2 67.3L124.7 72.9L125.2 82.1L125.8 89.3L126.3 86.3L126.8 77.8L127.3 70.8L127.8 73.6L128.3 83.3L128.8 87.6L129.4 85.9L129.9 78L130.4 69.7L130.9 71.3L131.4 79.8L131.9 88.1L132.4 88.4L132.9 78.9L133.5 71.1L134 74.3L134.5 80.7L135 90.8L135.5 87.1L136 77.9L136.5 71.4L137.1 70.6L137.6 82.2L138.1 90.2L138.6 87.3L139.1 77.2L139.6 70.5L140.1 73L140.6 81L141.2 89.9L141.7 85.9L142.2 78.3L142.7 70.3L143.2 73L143.7 83.2L144.2 88.6L144.8 86.9L145.3 79.1L145.8 69.1L146.3 72.6L146.8 80.1L147.3 81.4L147.8 72.3L148.3 67.2L148.9 63.8L149.4 69.6L149.9 78.2L150.4 82.8L150.9 84.5L151.4 84.8L151.9 84.1L152.5 87.3L153 92.3L153.5 95.1L154 92.9L154.5 86.3L155 81L155.5 80.8L156 81.8L156.6 81.8L157.1 79.6L157.6 75.8L158.1 74.5L158.6 75.7L159.1 79.5L159.6 82.4L160.2 84.1L160.7 80.8L161.2 78.9L161.7 80.1L162.2 85.8L162.7 89L163.2 86.9L163.8 82.1L164.3 78.1L164.8 77.5L165.3 80.3L165.8 83.1L166.3 82.6L166.8 78.4L167.3 74.2L167.9 74.5L168.4 79.6L168.9 83.3L169.4 82.6L169.9 77.4L170.4 73L170.9 75.9L171.5 79L172 83.3L172.5 83.3L173 77.2L173.5 73.5L174 74.2L174.5 79.7L175 81.6L175.6 81.5L176.1 77.5L176.6 73.5L177.1 74.4L177.6 78.2L178.1 81.8L178.6 82.9L179.2 76L179.7 72.9L180.2 73.6L180.7 78.1L181.2 82.5L181.7 81.1L182.2 76.4L182.7 73.2L183.3 73.6L183.8 79.3L184.3 83L184.8 82.2L185.3 76.3L185.8 70L186.3 73.3L186.9 78.3L187.4 81.5L187.9 80.5L188.4 75.9L188.9 72.2L189.4 71.8L189.9 78.3L190.4 82.4L191 82.9L191.5 77.1L192 71.8L192.5 74.2L193 77.6L193.5 81.7L194 80.9L194.6 75.8L195.1 71.8L195.6 72.4L196.1 78.1L196.6 82.3L197.1 79.6L197.6 74.8L198.1 69.4L198.7 71.1L199.2 78.2L199.7 82.1L200.2 81.7" fill="none" stroke="#ff00ff" stroke-width="1.5" stroke-dasharray="1.2 1.5" stroke-linejoin="round" clip-path="url(#i1)"/>
<path d="M63.3 98.4v-1.4M63.3 60.8v1.4M97.5 98.4v-1.4M97.5 60.8v1.4M131.8 98.4v-1.4M131.8 60.8v1.4M166 98.4v-1.4M166 60.8v1.4M200.2 98.4v-1.4M200.2 60.8v1.4M63.3 66.2h1.4M200.2 66.2h-1.4M63.3 73.6h1.4M200.2 73.6h-1.4M63.3 81h1.4M200.2 81h-1.4M63.3 88.4h1.4M200.2 88.4h-1.4M63.3 95.8h1.4M200.2 95.8h-1.4" stroke="#8a8a8a" stroke-width="1" fill="none"/>
<rect x="63.3" y="60.8" width="136.89999999999998" height="37.60000000000001" fill="none" stroke="#8a8a8a" stroke-width="1"/>
<g font-size="5.5" fill="#222222" text-anchor="middle">
<text x="63.3" y="105.3">20</text>
<text x="97.5" y="105.3">40</text>
<text x="131.8" y="105.3">60</text>
<text x="166" y="105.3">80</text>
<text x="200.2" y="105.3">100</text>
</g>
<g font-size="5.5" fill="#222222" text-anchor="end">
<text x="61.7" y="68.6">0.04</text>
<text x="61.7" y="76">0.02</text>
<text x="61.7" y="83.4">0</text>
<text x="61.7" y="90.8">-0.02</text>
<text x="61.7" y="98.2">-0.04</text>
</g>
<rect x="208.7" y="12.6" width="35.80000000000001" height="60.4" fill="#fff" stroke="#a0a0a0" stroke-width="0.8"/>
<path d="M211.1 19.8H230.6" stroke="#ff0000" stroke-width="1.8" fill="none"/>
<text x="233" y="22.4" font-family="'Liberation Serif','DejaVu Serif',serif" font-style="italic" font-size="11.3" fill="#1a1a1a">x<tspan font-style="normal" font-size="6.5" dx="0.3" dy="1.6">1</tspan></text>
<text x="233.6" y="18.4" font-family="'Liberation Serif','DejaVu Serif',serif" font-size="8" fill="#1a1a1a">~</text>
<path d="M211.1 31.5H230.6" stroke="#0000ff" stroke-width="1.8" stroke-dasharray="5 1.3 2.5 1.3" fill="none"/>
<text x="233" y="34.1" font-family="'Liberation Serif','DejaVu Serif',serif" font-style="italic" font-size="11.3" fill="#1a1a1a">x<tspan font-style="normal" font-size="6.5" dx="0.3" dy="1.6">2</tspan></text>
<text x="233.6" y="30.1" font-family="'Liberation Serif','DejaVu Serif',serif" font-size="8" fill="#1a1a1a">~</text>
<path d="M211.1 43.2H230.6" stroke="#00ff00" stroke-width="1.8" stroke-dasharray="5 5.1" fill="none"/>
<text x="233" y="45.8" font-family="'Liberation Serif','DejaVu Serif',serif" font-style="italic" font-size="11.3" fill="#1a1a1a">x<tspan font-style="normal" font-size="6.5" dx="0.3" dy="1.6">3</tspan></text>
<text x="233.6" y="41.8" font-family="'Liberation Serif','DejaVu Serif',serif" font-size="8" fill="#1a1a1a">~</text>
<path d="M211.1 54.8H230.6" stroke="#000000" stroke-width="1.8" stroke-dasharray="5 1.3 2.5 1.3" fill="none"/>
<text x="233" y="57.4" font-family="'Liberation Serif','DejaVu Serif',serif" font-style="italic" font-size="11.3" fill="#1a1a1a">x<tspan font-style="normal" font-size="6.5" dx="0.3" dy="1.6">4</tspan></text>
<text x="233.6" y="53.4" font-family="'Liberation Serif','DejaVu Serif',serif" font-size="8" fill="#1a1a1a">~</text>
<path d="M211.1 66.5H230.6" stroke="#ff00ff" stroke-width="1.8" stroke-dasharray="1.4 1.2" fill="none"/>
<text x="233" y="69.1" font-family="'Liberation Serif','DejaVu Serif',serif" font-style="italic" font-size="11.3" fill="#1a1a1a">x<tspan font-style="normal" font-size="6.5" dx="0.3" dy="1.6">5</tspan></text>
<text x="233.6" y="65.1" font-family="'Liberation Serif','DejaVu Serif',serif" font-size="8" fill="#1a1a1a">~</text>
<clipPath id="c2"><rect x="319.5" y="7.5" width="221.0" height="119.0"/></clipPath>
<rect x="319.5" y="7.5" width="221.0" height="119.0" fill="#fff"/>
<path d="M363.7 7.5V126.5M407.9 7.5V126.5M452.1 7.5V126.5M496.3 7.5V126.5M319.5 8.7H540.5M319.5 47.3H540.5M319.5 85.9H540.5M319.5 124.5H540.5" stroke="#e4e4e4" stroke-width="0.5" fill="none"/>
<path d="M319.5 48.1L319.5 52.6L319.6 57.2L319.6 61.8L319.7 66.3L319.7 70.6L319.8 74.6L319.8 78.3L319.9 81.6L319.9 84.3L319.9 86.5L320 88.1L320 88.9L320.1 89L320.1 88.9L320.2 88.7L320.2 88.4L320.3 88.1L320.3 87.6L320.3 87.1L320.4 86.6L320.4 85.9L320.5 85.3L320.5 84.5L320.6 83.8L320.6 83L320.6 82.2L320.7 81.3L320.7 80.4L320.8 79.5L320.8 78.6L320.9 77.7L320.9 76.8L321 76L321 75.1L321 74.2L321.1 73.4L321.1 72.6L321.2 71.9L321.2 71.1L321.3 70.5L321.3 69.8L321.4 69.1L321.4 68.5L321.4 67.8L321.5 67.1L321.5 66.4L321.6 65.7L321.6 65L321.7 64.3L321.7 63.6L321.8 62.9L321.8 62.2L321.8 61.5L321.9 60.8L321.9 60.1L322 59.4L322 58.7L322.1 58L322.1 57.3L322.2 56.6L322.2 56L322.2 55.3L322.3 54.7L322.3 54L322.4 53.4L322.4 52.8L322.5 52.2L322.5 51.7L322.5 51.1L322.6 50.6L322.6 50.1L322.7 49.6L322.7 49.1L322.8 48.7L322.8 48.2L322.9 47.8L322.9 47.5L322.9 47.1L323 46.8L323 46.5L323.1 46.1L323.1 45.8L323.2 45.5L323.2 45.2L323.3 44.8L323.3 44.5L323.3 44.2L323.4 43.9L323.4 43.6L323.5 43.4L323.5 43.1L323.6 42.8L323.6 42.5L323.7 42.3L323.7 42L323.7 41.8L323.8 41.5L323.8 41.3L323.9 41.1L323.9 40.8L324.1 39.8L324.4 39L324.6 38.3L324.8 37.8L325 37.3L325.2 36.8L325.5 36.3L325.7 36L325.9 35.7L326.1 35.5L326.4 35.3L326.6 35.3L326.8 35.4L327 35.6L327.2 35.8L327.5 36.1L327.7 36.5L327.9 36.9L328.1 37.4L328.3 37.9L328.6 38.5L328.8 39.1L329 39.8L329.2 40.4L329.4 41.1L329.7 41.8L329.9 42.5L330.1 43.2L330.3 43.9L330.6 44.6L330.8 45.3L331 46L331.2 46.7L331.4 47.3L331.7 47.9L331.9 48.4L332.1 48.9L332.3 49.4L332.5 49.8L332.8 50.1L333 50.4L333.2 50.6L333.4 50.7L333.6 50.8L333.9 50.7L334.1 50.7L334.3 50.5L334.5 50.4L334.7 50.2L335 49.9L335.2 49.7L335.4 49.4L335.6 49.1L335.9 48.7L336.1 48.4L336.3 48L336.5 47.7L336.7 47.3L337 47L337.2 46.6L337.4 46.3L337.6 46L337.8 45.7L338.1 45.4L338.3 45.2L338.5 45L338.7 44.8L338.9 44.7L339.2 44.6L339.4 44.6L339.6 44.6L339.8 44.6L340.1 44.7L340.3 44.8L340.5 44.9L340.7 45L340.9 45.1L341.2 45.2L341.4 45.4L341.6 45.5L341.8 45.7L342 45.9L342.3 46.1L342.5 46.2L342.7 46.4L342.9 46.6L343.1 46.8L343.4 47L343.6 47.2L343.8 47.3L344 47.5L344.3 47.7L344.5 47.8L344.7 48L344.9 48.1L345.1 48.2L345.4 48.3L345.6 48.4L345.8 48.4L346 48.4L346.2 48.5L346.5 48.5L346.7 48.4L346.9 48.4L347.1 48.4L347.3 48.3L347.6 48.3L347.8 48.2L348 48.2L348.2 48.1L348.5 48L348.7 48L348.9 47.9L349.1 47.8L349.3 47.7L349.6 47.6L349.8 47.6L350 47.5L350.2 47.4L350.4 47.3L350.7 47.3L350.9 47.2L351.1 47.1L351.3 47.1L351.5 47L351.8 47L352 47L352.2 46.9L352.4 46.9L352.7 46.9L352.9 46.9L353.1 46.9L353.3 46.9L353.5 46.9L353.8 47L354 47L354.2 47L354.4 47L354.6 47L354.9 47.1L355.1 47.1L355.3 47.1L355.5 47.1L355.7 47.2L356 47.2L356.2 47.2L356.4 47.2L356.6 47.3L356.8 47.3L357.1 47.3L357.3 47.3L357.5 47.4L357.7 47.4L358 47.4L358.2 47.4L358.4 47.4L358.6 47.4L358.8 47.4L359.1 47.5L359.3 47.5L359.5 47.5L359.7 47.5L359.9 47.4L360.2 47.4L360.4 47.4L360.6 47.4L360.8 47.4L361 47.4L361.3 47.4L361.5 47.4L361.7 47.4L361.9 47.4L362.2 47.3L362.4 47.3L362.6 47.3L362.8 47.3L363 47.3L363.3 47.3L363.5 47.3L363.7 47.3L368.1 47.3L372.5 47.3L377 47.3L381.4 47.3L385.8 47.3L390.2 47.3L394.6 47.3L399.1 47.3L403.5 47.3L407.9 47.3L412.3 47.3L416.7 47.3L421.2 47.3L425.6 47.3L430 47.3L434.4 47.3L438.8 47.3L443.3 47.3L447.7 47.3L452.1 47.3L456.5 47.3L460.9 47.3L465.4 47.3L469.8 47.3L474.2 47.3L478.6 47.3L483 47.3L487.5 47.3L491.9 47.3L496.3 47.3L500.7 47.3L505.1 47.3L509.6 47.3L514 47.3L518.4 47.3L522.8 47.3L527.2 47.3L531.7 47.3L536.1 47.3L540.5 47.3" fill="none" stroke="#ff0000" stroke-width="1.6" stroke-linejoin="round" clip-path="url(#c2)"/>
<path d="M319.5 48.8L319.5 53.7L319.6 58.8L319.6 63.8L319.7 68.7L319.7 73.3L319.8 77.4L319.8 80.9L319.9 83.6L319.9 85.3L319.9 85.9L320 85.9L320 85.8L320.1 85.6L320.1 85.4L320.2 85.1L320.2 84.8L320.3 84.5L320.3 84.1L320.3 83.6L320.4 83.1L320.4 82.6L320.5 82.1L320.5 81.5L320.6 80.9L320.6 80.3L320.6 79.6L320.7 79L320.7 78.3L320.8 77.6L320.8 76.9L320.9 76.3L320.9 75.6L321 74.9L321 74.2L321 73.5L321.1 72.9L321.1 72.3L321.2 71.6L321.2 71L321.3 70.5L321.3 69.9L321.4 69.3L321.4 68.7L321.4 68.1L321.5 67.5L321.5 66.8L321.6 66.2L321.6 65.5L321.7 64.9L321.7 64.2L321.8 63.5L321.8 62.8L321.8 62.1L321.9 61.4L321.9 60.7L322 60.1L322 59.4L322.1 58.7L322.1 58L322.2 57.3L322.2 56.6L322.2 56L322.3 55.3L322.3 54.6L322.4 54L322.4 53.4L322.5 52.7L322.5 52.1L322.5 51.6L322.6 51L322.6 50.4L322.7 49.9L322.7 49.4L322.8 48.9L322.8 48.4L322.9 47.9L322.9 47.5L322.9 47.1L323 46.7L323 46.3L323.1 45.9L323.1 45.5L323.2 45.1L323.2 44.7L323.3 44.3L323.3 44L323.3 43.6L323.4 43.2L323.4 42.9L323.5 42.5L323.5 42.2L323.6 41.8L323.6 41.5L323.7 41.1L323.7 40.8L323.7 40.5L323.8 40.2L323.8 39.9L323.9 39.6L323.9 39.3L324.1 37.9L324.4 36.8L324.6 36L324.8 35.3L325 34.7L325.2 34.1L325.5 33.5L325.7 33L325.9 32.7L326.1 32.4L326.4 32.3L326.6 32.3L326.8 32.4L327 32.6L327.2 32.9L327.5 33.2L327.7 33.7L327.9 34.2L328.1 34.8L328.3 35.5L328.6 36.1L328.8 36.9L329 37.7L329.2 38.5L329.4 39.3L329.7 40.2L329.9 41L330.1 41.9L330.3 42.8L330.6 43.7L330.8 44.5L331 45.3L331.2 46.1L331.4 46.9L331.7 47.6L331.9 48.3L332.1 48.9L332.3 49.5L332.5 50L332.8 50.4L333 50.7L333.2 51L333.4 51.1L333.6 51.2L333.9 51.1L334.1 51L334.3 50.9L334.5 50.7L334.7 50.5L335 50.2L335.2 49.9L335.4 49.6L335.6 49.2L335.9 48.9L336.1 48.5L336.3 48.1L336.5 47.7L336.7 47.3L337 46.9L337.2 46.5L337.4 46.1L337.6 45.8L337.8 45.5L338.1 45.2L338.3 44.9L338.5 44.7L338.7 44.5L338.9 44.3L339.2 44.2L339.4 44.2L339.6 44.2L339.8 44.3L340.1 44.3L340.3 44.4L340.5 44.5L340.7 44.6L340.9 44.8L341.2 44.9L341.4 45.1L341.6 45.3L341.8 45.4L342 45.6L342.3 45.8L342.5 46L342.7 46.2L342.9 46.4L343.1 46.6L343.4 46.8L343.6 47L343.8 47.2L344 47.4L344.3 47.6L344.5 47.8L344.7 47.9L344.9 48L345.1 48.2L345.4 48.3L345.6 48.3L345.8 48.4L346 48.4L346.2 48.5L346.5 48.5L346.7 48.4L346.9 48.4L347.1 48.4L347.3 48.3L347.6 48.3L347.8 48.2L348 48.2L348.2 48.1L348.5 48L348.7 48L348.9 47.9L349.1 47.8L349.3 47.7L349.6 47.6L349.8 47.6L350 47.5L350.2 47.4L350.4 47.3L350.7 47.3L350.9 47.2L351.1 47.1L351.3 47.1L351.5 47L351.8 47L352 47L352.2 46.9L352.4 46.9L352.7 46.9L352.9 46.9L353.1 46.9L353.3 46.9L353.5 46.9L353.8 47L354 47L354.2 47L354.4 47L354.6 47L354.9 47.1L355.1 47.1L355.3 47.1L355.5 47.1L355.7 47.2L356 47.2L356.2 47.2L356.4 47.2L356.6 47.3L356.8 47.3L357.1 47.3L357.3 47.3L357.5 47.4L357.7 47.4L358 47.4L358.2 47.4L358.4 47.4L358.6 47.4L358.8 47.4L359.1 47.5L359.3 47.5L359.5 47.5L359.7 47.5L359.9 47.4L360.2 47.4L360.4 47.4L360.6 47.4L360.8 47.4L361 47.4L361.3 47.4L361.5 47.4L361.7 47.4L361.9 47.4L362.2 47.3L362.4 47.3L362.6 47.3L362.8 47.3L363 47.3L363.3 47.3L363.5 47.3L363.7 47.3L368.1 47.3L372.5 47.3L377 47.3L381.4 47.3L385.8 47.3L390.2 47.3L394.6 47.3L399.1 47.3L403.5 47.3L407.9 47.3L412.3 47.3L416.7 47.3L421.2 47.3L425.6 47.3L430 47.3L434.4 47.3L438.8 47.3L443.3 47.3L447.7 47.3L452.1 47.3L456.5 47.3L460.9 47.3L465.4 47.3L469.8 47.3L474.2 47.3L478.6 47.3L483 47.3L487.5 47.3L491.9 47.3L496.3 47.3L500.7 47.3L505.1 47.3L509.6 47.3L514 47.3L518.4 47.3L522.8 47.3L527.2 47.3L531.7 47.3L536.1 47.3L540.5 47.3" fill="none" stroke="#0000ff" stroke-width="1.6" stroke-dasharray="5 1.3 2.5 1.3" stroke-linejoin="round" clip-path="url(#c2)"/>
<path d="M319.5 46.5L319.5 93.9L319.6 136.5L319.6 155.4L319.7 156.1L319.7 156.8L319.8 157.3L319.8 157.8L319.9 158.2L319.9 158.5L319.9 158.8L320 158.9L320 159.1L320.1 159.2L320.1 159.2L320.2 159.2L320.2 154.7L320.3 143.3L320.3 128.3L320.3 112.8L320.4 100.2L320.4 93.6L320.5 91.3L320.5 89.1L320.6 87.2L320.6 85.5L320.6 83.9L320.7 82.5L320.7 81.2L320.8 80.1L320.8 79.1L320.9 78.1L320.9 77.3L321 76.5L321 75.7L321 75L321.1 74.3L321.1 73.6L321.2 72.8L321.2 72.1L321.3 71.2L321.3 70.4L321.4 69.6L321.4 68.7L321.4 67.9L321.5 67.2L321.5 66.4L321.6 65.6L321.6 64.9L321.7 64.1L321.7 63.4L321.8 62.7L321.8 62L321.8 61.4L321.9 60.7L321.9 60L322 59.4L322 58.7L322.1 58.1L322.1 57.5L322.2 56.9L322.2 56.3L322.2 55.7L322.3 55.1L322.3 54.5L322.4 54L322.4 53.4L322.5 52.8L322.5 52.3L322.5 51.7L322.6 51.2L322.6 50.7L322.7 50.1L322.7 49.6L322.8 49.1L322.8 48.6L322.9 48.1L322.9 47.6L322.9 47L323 46.5L323 46L323.1 45.5L323.1 45L323.2 44.5L323.2 43.9L323.3 43.4L323.3 42.9L323.3 42.4L323.4 41.9L323.4 41.4L323.5 40.9L323.5 40.4L323.6 39.9L323.6 39.4L323.7 38.9L323.7 38.4L323.7 38L323.8 37.5L323.8 37.1L323.9 36.6L323.9 36.2L324.1 34.2L324.4 32.6L324.6 31.4L324.8 30.4L325 29.5L325.2 28.6L325.5 27.9L325.7 27.2L325.9 26.7L326.1 26.3L326.4 26.1L326.6 26.1L326.8 26.2L327 26.5L327.2 26.9L327.5 27.4L327.7 28L327.9 28.7L328.1 29.5L328.3 30.4L328.6 31.3L328.8 32.3L329 33.4L329.2 34.5L329.4 35.6L329.7 36.8L329.9 37.9L330.1 39.1L330.3 40.3L330.6 41.4L330.8 42.6L331 43.7L331.2 44.8L331.4 45.8L331.7 46.8L331.9 47.7L332.1 48.5L332.3 49.3L332.5 49.9L332.8 50.5L333 50.9L333.2 51.3L333.4 51.5L333.6 51.5L333.9 51.5L334.1 51.4L334.3 51.3L334.5 51.1L334.7 50.8L335 50.5L335.2 50.2L335.4 49.8L335.6 49.4L335.9 49L336.1 48.6L336.3 48.1L336.5 47.7L336.7 47.2L337 46.8L337.2 46.4L337.4 46L337.6 45.6L337.8 45.2L338.1 44.9L338.3 44.6L338.5 44.3L338.7 44.1L338.9 44L339.2 43.9L339.4 43.8L339.6 43.8L339.8 43.9L340.1 43.9L340.3 44L340.5 44.1L340.7 44.3L340.9 44.4L341.2 44.6L341.4 44.8L341.6 45L341.8 45.2L342 45.4L342.3 45.6L342.5 45.8L342.7 46L342.9 46.3L343.1 46.5L343.4 46.7L343.6 46.9L343.8 47.1L344 47.3L344.3 47.5L344.5 47.7L344.7 47.9L344.9 48L345.1 48.1L345.4 48.2L345.6 48.3L345.8 48.4L346 48.4L346.2 48.5L346.5 48.5L346.7 48.4L346.9 48.4L347.1 48.4L347.3 48.3L347.6 48.3L347.8 48.2L348 48.2L348.2 48.1L348.5 48L348.7 48L348.9 47.9L349.1 47.8L349.3 47.7L349.6 47.6L349.8 47.6L350 47.5L350.2 47.4L350.4 47.3L350.7 47.3L350.9 47.2L351.1 47.1L351.3 47.1L351.5 47L351.8 47L352 47L352.2 46.9L352.4 46.9L352.7 46.9L352.9 46.9L353.1 46.9L353.3 46.9L353.5 46.9L353.8 47L354 47L354.2 47L354.4 47L354.6 47L354.9 47.1L355.1 47.1L355.3 47.1L355.5 47.1L355.7 47.2L356 47.2L356.2 47.2L356.4 47.2L356.6 47.3L356.8 47.3L357.1 47.3L357.3 47.3L357.5 47.4L357.7 47.4L358 47.4L358.2 47.4L358.4 47.4L358.6 47.4L358.8 47.4L359.1 47.5L359.3 47.5L359.5 47.5L359.7 47.5L359.9 47.4L360.2 47.4L360.4 47.4L360.6 47.4L360.8 47.4L361 47.4L361.3 47.4L361.5 47.4L361.7 47.4L361.9 47.4L362.2 47.3L362.4 47.3L362.6 47.3L362.8 47.3L363 47.3L363.3 47.3L363.5 47.3L363.7 47.3L368.1 47.3L372.5 47.3L377 47.3L381.4 47.3L385.8 47.3L390.2 47.3L394.6 47.3L399.1 47.3L403.5 47.3L407.9 47.3L412.3 47.3L416.7 47.3L421.2 47.3L425.6 47.3L430 47.3L434.4 47.3L438.8 47.3L443.3 47.3L447.7 47.3L452.1 47.3L456.5 47.3L460.9 47.3L465.4 47.3L469.8 47.3L474.2 47.3L478.6 47.3L483 47.3L487.5 47.3L491.9 47.3L496.3 47.3L500.7 47.3L505.1 47.3L509.6 47.3L514 47.3L518.4 47.3L522.8 47.3L527.2 47.3L531.7 47.3L536.1 47.3L540.5 47.3" fill="none" stroke="#00ff00" stroke-width="1.6" stroke-dasharray="5 5.1" stroke-linejoin="round" clip-path="url(#c2)"/>
<path d="M319.5 48.5L319.5 72.3L319.6 96.4L319.6 118.8L319.7 137.4L319.7 150.2L319.8 155.4L319.8 156L319.9 156.5L319.9 157L319.9 157.4L320 157.8L320 158.1L320.1 158.4L320.1 158.6L320.2 158.8L320.2 159L320.3 159.1L320.3 159.2L320.3 159.2L320.4 159.2L320.4 154.7L320.5 143.4L320.5 128.4L320.6 113L320.6 100.3L320.6 93.6L320.7 91.1L320.7 88.8L320.8 86.8L320.8 85L320.9 83.4L320.9 82L321 80.7L321 79.5L321 78.5L321.1 77.6L321.1 76.7L321.2 75.8L321.2 75L321.3 74.2L321.3 73.4L321.4 72.5L321.4 71.5L321.4 70.6L321.5 69.7L321.5 68.9L321.6 68L321.6 67.2L321.7 66.4L321.7 65.6L321.8 64.9L321.8 64.1L321.8 63.4L321.9 62.7L321.9 62L322 61.4L322 60.7L322.1 60L322.1 59.4L322.2 58.8L322.2 58.1L322.2 57.5L322.3 56.9L322.3 56.3L322.4 55.6L322.4 55L322.5 54.4L322.5 53.8L322.5 53.1L322.6 52.5L322.6 51.8L322.7 51.2L322.7 50.5L322.8 49.8L322.8 49.1L322.9 48.4L322.9 47.7L322.9 46.9L323 46.2L323 45.4L323.1 44.6L323.1 43.7L323.2 42.9L323.2 42L323.3 41.2L323.3 40.3L323.3 39.4L323.4 38.5L323.4 37.6L323.5 36.7L323.5 35.8L323.6 34.9L323.6 34L323.7 33.1L323.7 32.2L323.7 31.3L323.8 30.4L323.8 29.5L323.9 28.6L323.9 27.8L324.1 23.7L324.4 20.2L324.6 17.5L324.8 15.1L325 12.9L325.2 10.8L325.5 9.1L325.7 8L325.9 7.5L326.1 7.6L326.4 8L326.6 8.5L326.8 9.2L327 10L327.2 11L327.5 12.2L327.7 13.5L327.9 14.9L328.1 16.4L328.3 18L328.6 19.7L328.8 21.5L329 23.3L329.2 25.2L329.4 27.1L329.7 29L329.9 30.9L330.1 32.8L330.3 34.7L330.6 36.6L330.8 38.4L331 40.1L331.2 41.8L331.4 43.4L331.7 45L331.9 46.4L332.1 47.7L332.3 48.8L332.5 49.8L332.8 50.7L333 51.4L333.2 51.9L333.4 52.2L333.6 52.3L333.9 52.3L334.1 52.1L334.3 51.9L334.5 51.5L334.7 51.1L335 50.6L335.2 50.1L335.4 49.5L335.6 48.9L335.9 48.2L336.1 47.6L336.3 46.9L336.5 46.1L336.7 45.4L337 44.7L337.2 44L337.4 43.4L337.6 42.8L337.8 42.2L338.1 41.6L338.3 41.2L338.5 40.8L338.7 40.4L338.9 40.2L339.2 40L339.4 40L339.6 40L339.8 40.1L340.1 40.2L340.3 40.4L340.5 40.6L340.7 40.8L340.9 41.1L341.2 41.4L341.4 41.7L341.6 42L341.8 42.4L342 42.8L342.3 43.2L342.5 43.6L342.7 44L342.9 44.4L343.1 44.8L343.4 45.2L343.6 45.6L343.8 46L344 46.4L344.3 46.7L344.5 47.1L344.7 47.4L344.9 47.6L345.1 47.9L345.4 48.1L345.6 48.2L345.8 48.4L346 48.4L346.2 48.5L346.5 48.5L346.7 48.4L346.9 48.4L347.1 48.4L347.3 48.3L347.6 48.3L347.8 48.2L348 48.2L348.2 48.1L348.5 48L348.7 48L348.9 47.9L349.1 47.8L349.3 47.7L349.6 47.6L349.8 47.6L350 47.5L350.2 47.4L350.4 47.3L350.7 47.3L350.9 47.2L351.1 47.1L351.3 47.1L351.5 47L351.8 47L352 47L352.2 46.9L352.4 46.9L352.7 46.9L352.9 46.9L353.1 46.9L353.3 46.9L353.5 46.9L353.8 47L354 47L354.2 47L354.4 47L354.6 47L354.9 47.1L355.1 47.1L355.3 47.1L355.5 47.1L355.7 47.2L356 47.2L356.2 47.2L356.4 47.2L356.6 47.3L356.8 47.3L357.1 47.3L357.3 47.3L357.5 47.4L357.7 47.4L358 47.4L358.2 47.4L358.4 47.4L358.6 47.4L358.8 47.4L359.1 47.5L359.3 47.5L359.5 47.5L359.7 47.5L359.9 47.4L360.2 47.4L360.4 47.4L360.6 47.4L360.8 47.4L361 47.4L361.3 47.4L361.5 47.4L361.7 47.4L361.9 47.4L362.2 47.3L362.4 47.3L362.6 47.3L362.8 47.3L363 47.3L363.3 47.3L363.5 47.3L363.7 47.3L368.1 47.3L372.5 47.3L377 47.3L381.4 47.3L385.8 47.3L390.2 47.3L394.6 47.3L399.1 47.3L403.5 47.3L407.9 47.3L412.3 47.3L416.7 47.3L421.2 47.3L425.6 47.3L430 47.3L434.4 47.3L438.8 47.3L443.3 47.3L447.7 47.3L452.1 47.3L456.5 47.3L460.9 47.3L465.4 47.3L469.8 47.3L474.2 47.3L478.6 47.3L483 47.3L487.5 47.3L491.9 47.3L496.3 47.3L500.7 47.3L505.1 47.3L509.6 47.3L514 47.3L518.4 47.3L522.8 47.3L527.2 47.3L531.7 47.3L536.1 47.3L540.5 47.3" fill="none" stroke="#000000" stroke-width="1.6" stroke-dasharray="5 1.3 2.5 1.3" stroke-linejoin="round" clip-path="url(#c2)"/>
<path d="M319.5 47.3L319.5 51.5L319.6 55.8L319.6 60L319.7 64.1L319.7 68.1L319.8 71.9L319.8 75.5L319.9 78.8L319.9 81.9L319.9 84.6L320 86.9L320 88.8L320.1 90.1L320.1 91L320.2 91.3L320.2 91.3L320.3 91.1L320.3 90.9L320.3 90.5L320.4 90.1L320.4 89.7L320.5 89.1L320.5 88.5L320.6 87.8L320.6 87.1L320.6 86.4L320.7 85.6L320.7 84.7L320.8 83.9L320.8 83L320.9 82L320.9 81.1L321 80.2L321 79.3L321 78.3L321.1 77.4L321.1 76.5L321.2 75.6L321.2 74.7L321.3 73.9L321.3 73.1L321.4 72.4L321.4 71.7L321.4 70.9L321.5 70.2L321.5 69.5L321.6 68.8L321.6 68L321.7 67.3L321.7 66.5L321.8 65.8L321.8 65L321.8 64.2L321.9 63.5L321.9 62.7L322 61.9L322 61.2L322.1 60.4L322.1 59.7L322.2 58.9L322.2 58.2L322.2 57.4L322.3 56.7L322.3 56L322.4 55.3L322.4 54.6L322.5 53.9L322.5 53.2L322.5 52.5L322.6 51.8L322.6 51.2L322.7 50.5L322.7 49.9L322.8 49.3L322.8 48.7L322.9 48.1L322.9 47.6L322.9 47L323 46.5L323 46L323.1 45.4L323.1 44.9L323.2 44.3L323.2 43.8L323.3 43.3L323.3 42.7L323.3 42.2L323.4 41.7L323.4 41.2L323.5 40.7L323.5 40.2L323.6 39.7L323.6 39.2L323.7 38.7L323.7 38.2L323.7 37.7L323.8 37.3L323.8 36.8L323.9 36.4L323.9 35.9L324.1 33.9L324.4 32.3L324.6 31.1L324.8 30.1L325 29.2L325.2 28.3L325.5 27.5L325.7 26.8L325.9 26.3L326.1 25.9L326.4 25.7L326.6 25.7L326.8 25.8L327 26.1L327.2 26.5L327.5 27L327.7 27.7L327.9 28.4L328.1 29.2L328.3 30.1L328.6 31L328.8 32L329 33.1L329.2 34.2L329.4 35.4L329.7 36.5L329.9 37.7L330.1 38.9L330.3 40.1L330.6 41.3L330.8 42.4L331 43.6L331.2 44.7L331.4 45.7L331.7 46.7L331.9 47.6L332.1 48.5L332.3 49.2L332.5 49.9L332.8 50.5L333 50.9L333.2 51.3L333.4 51.5L333.6 51.5L333.9 51.5L334.1 51.4L334.3 51.3L334.5 51.1L334.7 50.8L335 50.5L335.2 50.2L335.4 49.8L335.6 49.4L335.9 49L336.1 48.6L336.3 48.1L336.5 47.7L336.7 47.2L337 46.8L337.2 46.4L337.4 46L337.6 45.6L337.8 45.2L338.1 44.9L338.3 44.6L338.5 44.3L338.7 44.1L338.9 44L339.2 43.9L339.4 43.8L339.6 43.8L339.8 43.9L340.1 43.9L340.3 44L340.5 44.1L340.7 44.3L340.9 44.4L341.2 44.6L341.4 44.8L341.6 45L341.8 45.2L342 45.4L342.3 45.6L342.5 45.8L342.7 46L342.9 46.3L343.1 46.5L343.4 46.7L343.6 46.9L343.8 47.1L344 47.3L344.3 47.5L344.5 47.7L344.7 47.9L344.9 48L345.1 48.1L345.4 48.2L345.6 48.3L345.8 48.4L346 48.4L346.2 48.5L346.5 48.5L346.7 48.4L346.9 48.4L347.1 48.4L347.3 48.3L347.6 48.3L347.8 48.2L348 48.2L348.2 48.1L348.5 48L348.7 48L348.9 47.9L349.1 47.8L349.3 47.7L349.6 47.6L349.8 47.6L350 47.5L350.2 47.4L350.4 47.3L350.7 47.3L350.9 47.2L351.1 47.1L351.3 47.1L351.5 47L351.8 47L352 47L352.2 46.9L352.4 46.9L352.7 46.9L352.9 46.9L353.1 46.9L353.3 46.9L353.5 46.9L353.8 47L354 47L354.2 47L354.4 47L354.6 47L354.9 47.1L355.1 47.1L355.3 47.1L355.5 47.1L355.7 47.2L356 47.2L356.2 47.2L356.4 47.2L356.6 47.3L356.8 47.3L357.1 47.3L357.3 47.3L357.5 47.4L357.7 47.4L358 47.4L358.2 47.4L358.4 47.4L358.6 47.4L358.8 47.4L359.1 47.5L359.3 47.5L359.5 47.5L359.7 47.5L359.9 47.4L360.2 47.4L360.4 47.4L360.6 47.4L360.8 47.4L361 47.4L361.3 47.4L361.5 47.4L361.7 47.4L361.9 47.4L362.2 47.3L362.4 47.3L362.6 47.3L362.8 47.3L363 47.3L363.3 47.3L363.5 47.3L363.7 47.3L368.1 47.3L372.5 47.3L377 47.3L381.4 47.3L385.8 47.3L390.2 47.3L394.6 47.3L399.1 47.3L403.5 47.3L407.9 47.3L412.3 47.3L416.7 47.3L421.2 47.3L425.6 47.3L430 47.3L434.4 47.3L438.8 47.3L443.3 47.3L447.7 47.3L452.1 47.3L456.5 47.3L460.9 47.3L465.4 47.3L469.8 47.3L474.2 47.3L478.6 47.3L483 47.3L487.5 47.3L491.9 47.3L496.3 47.3L500.7 47.3L505.1 47.3L509.6 47.3L514 47.3L518.4 47.3L522.8 47.3L527.2 47.3L531.7 47.3L536.1 47.3L540.5 47.3" fill="none" stroke="#ff00ff" stroke-width="1.6" stroke-dasharray="1.4 1.2" stroke-linejoin="round" clip-path="url(#c2)"/>
<path d="M319.5 126.5v-2.2M319.5 7.5v2.2M363.7 126.5v-2.2M363.7 7.5v2.2M407.9 126.5v-2.2M407.9 7.5v2.2M452.1 126.5v-2.2M452.1 7.5v2.2M496.3 126.5v-2.2M496.3 7.5v2.2M540.5 126.5v-2.2M540.5 7.5v2.2M319.5 8.7h2.2M540.5 8.7h-2.2M319.5 47.3h2.2M540.5 47.3h-2.2M319.5 85.9h2.2M540.5 85.9h-2.2M319.5 124.5h2.2M540.5 124.5h-2.2" stroke="#8a8a8a" stroke-width="1" fill="none"/>
<rect x="319.5" y="7.5" width="221.0" height="119.0" fill="none" stroke="#8a8a8a" stroke-width="1"/>
<g font-size="6.8" fill="#222222" text-anchor="middle">
<text x="319.5" y="136.2">0</text>
<text x="363.7" y="136.2">20</text>
<text x="407.9" y="136.2">40</text>
<text x="452.1" y="136.2">60</text>
<text x="496.3" y="136.2">80</text>
<text x="540.5" y="136.2">100</text>
</g>
<g font-size="6.8" fill="#222222" text-anchor="end">
<text x="316.8" y="12.5">5</text>
<text x="316.8" y="50.6">0</text>
<text x="316.8" y="88.7">-5</text>
<text x="316.8" y="126.8">-10</text>
</g>
<text x="430.5" y="147.1" font-size="8.3" fill="#222222" text-anchor="middle">Time (s)</text>
<text transform="translate(302.7 67) rotate(-90)" font-size="8.15" fill="#222222" text-anchor="middle">Consensus errors in y-axis</text>
<clipPath id="i2"><rect x="354.4" y="63.9" width="137.5" height="37.50000000000001"/></clipPath>
<rect x="354.4" y="63.9" width="137.5" height="37.50000000000001" fill="#fff"/>
<path d="M388.8 63.9V101.4M423.1 63.9V101.4M457.5 63.9V101.4M354.4 82.7H491.9" stroke="#e4e4e4" stroke-width="0.5" fill="none"/>
<path d="M363 77.1L363.5 83.8L364 87.7L364.5 85.2L365 78.8L365.5 74.1L366 77.7L366.5 82.5L367 86.6L367.5 85.8L368 78.4L368.5 74.7L369 76.2L369.5 83.9L370 87L370.5 84.4L371 80.8L371.5 76.3L372 77.1L372.5 83.6L373 86.8L373.5 85L374 79.7L374.5 74.8L375 77.8L375.5 83.5L376 87.2L376.5 84.4L377 80L377.5 76L378 78.8L378.5 81.9L379 87.5L379.5 85.2L380 79.8L380.5 75.8L381 77.7L381.5 82.9L382 87L382.5 84.7L383 79.3L383.5 75.4L384 76.8L384.5 83.5L385.1 87.6L385.6 87L386.1 78.2L386.6 74.2L387.1 76.2L387.6 85.5L388.1 88L388.6 85.7L389.1 78.5L389.6 74.6L390.1 76.6L390.6 83.2L391.1 87.4L391.6 85L392.1 79.2L392.6 75.8L393.1 77.6L393.6 83.9L394.1 89.1L394.6 84.7L395.1 79.8L395.6 74.7L396.1 78.1L396.6 83.7L397.1 88.3L397.6 85.3L398.1 79.2L398.6 75.2L399.1 76.5L399.6 82.6L400.1 87.1L400.6 84.7L401.1 79.5L401.6 74.8L402.1 76.6L402.6 83.7L403.1 86.4L403.6 84.6L404.1 78.5L404.6 75.4L405.1 77.6L405.6 82.7L406.1 86L406.6 83.9L407.1 79.4L407.6 75.7L408.1 77.2L408.6 83.9L409.1 85.5L409.6 83.9L410.1 78.5L410.6 75.1L411.1 76.2L411.6 83L412.1 85.2L412.6 83.8L413.1 79.2L413.6 74.2L414.1 77L414.6 82.8L415.1 85.9L415.6 83.7L416.1 78.4L416.6 75.1L417.1 77.1L417.6 82.7L418.1 86.5L418.6 84.3L419.1 78.3L419.6 74.8L420.1 76.3L420.6 83.1L421.1 85.9L421.6 84.2L422.1 78.6L422.6 75L423.2 77.3L423.7 82.5L424.2 85.8L424.7 83.3L425.2 77.9L425.7 74L426.2 77.1L426.7 83.1L427.2 85.7L427.7 84L428.2 77.9L428.7 75.5L429.2 76.8L429.7 83.3L430.2 86L430.7 83.6L431.2 77.7L431.7 76L432.2 77.3L432.7 83.5L433.2 86.4L433.7 84.4L434.2 78.7L434.7 74.7L435.2 76.6L435.7 83.3L436.2 85.1L436.7 84L437.2 77.6L437.7 75.2L438.2 77L438.7 81.4L439.2 76.3L439.7 70L440.2 66.7L440.7 70.2L441.2 77.7L441.7 82.9L442.2 87.6L442.7 90.3L443.2 92.4L443.7 94L444.2 94L444.7 93.2L445.2 91L445.7 87.1L446.2 83.5L446.7 82.1L447.2 82.4L447.7 83.8L448.2 85L448.7 83.8L449.2 80.3L449.7 78L450.2 79.8L450.7 82.8L451.2 85.1L451.7 84.1L452.2 81.7L452.7 80.3L453.2 81.3L453.7 84.6L454.2 87.7L454.7 85.7L455.2 82.4L455.7 81L456.2 82.8L456.7 86.1L457.2 88.5L457.7 86.8L458.2 83.7L458.7 79.6L459.2 81.1L459.7 86.2L460.2 89.1L460.7 86.9L461.2 82.7L461.8 79.7L462.3 81.4L462.8 85.7L463.3 88.6L463.8 86.1L464.3 82.5L464.8 80.5L465.3 81.5L465.8 85.4L466.3 88L466.8 86.9L467.3 82.4L467.8 81L468.3 81.4L468.8 85.4L469.3 87.2L469.8 86.5L470.3 82.2L470.8 80.1L471.3 81.2L471.8 85.3L472.3 87.7L472.8 85.8L473.3 82.5L473.8 80.6L474.3 81.5L474.8 85.6L475.3 87.2L475.8 86L476.3 82.1L476.8 78.7L477.3 81L477.8 84.5L478.3 86.4L478.8 85.3L479.3 82.3L479.8 79.3L480.3 80.4L480.8 85.8L481.3 86.9L481.8 85.5L482.3 82.1L482.8 78.9L483.3 80.9L483.8 84.1L484.3 86.7L484.8 85.2L485.3 81.5L485.8 79.8L486.3 80.7L486.8 84.6L487.3 86.5L487.8 84.5L488.3 81.4L488.8 79.8L489.3 81L489.8 83.2L490.3 86.7L490.8 85.4L491.3 81.2L491.8 79.5" fill="none" stroke="#ff0000" stroke-width="1.5" stroke-linejoin="round" clip-path="url(#i2)"/>
<path d="M363 75.6L363.5 73.7L364 78.5L364.5 86.6L365 87.2L365.5 83.5L366 76.4L366.5 75.5L367 80.7L367.5 88.6L368 86.9L368.5 83.6L369 77.3L369.5 75.3L370 79.9L370.5 85.9L371 87L371.5 82.9L372 76L372.5 75.1L373 81.1L373.5 85.2L374 88L374.5 81.7L375 76.6L375.5 74.9L376 80.2L376.5 87.8L377 87.6L377.5 83.7L378 75.6L378.5 75.5L379 79.7L379.5 85.7L380 87.9L380.5 80.8L381 75.2L381.5 73.5L382 81L382.5 86L383 87L383.5 82.2L384 76.5L384.5 75.8L385.1 82.4L385.6 86.5L386.1 88.4L386.6 82.7L387.1 74.5L387.6 72.5L388.1 79.5L388.6 85.6L389.1 87.4L389.6 81.9L390.1 74.8L390.6 74.3L391.1 80.1L391.6 86.4L392.1 86.5L392.6 81.8L393.1 74.6L393.6 75.4L394.1 79.7L394.6 86.7L395.1 87.6L395.6 83.4L396.1 77.6L396.6 76.7L397.1 80.3L397.6 84.4L398.1 87.5L398.6 83.3L399.1 74.8L399.6 74.1L400.1 79.6L400.6 86.9L401.1 88.6L401.6 82.6L402.1 75.2L402.6 74.2L403.1 78.7L403.6 87.3L404.1 87L404.6 82.1L405.1 74.9L405.6 72.8L406.1 79.5L406.6 86.2L407.1 87L407.6 81.5L408.1 74.9L408.6 73.3L409.1 79L409.6 86.2L410.1 85.1L410.6 81.7L411.1 75.7L411.6 75.3L412.1 80.9L412.6 85.8L413.1 86.6L413.6 81.2L414.1 75.1L414.6 73.4L415.1 78.5L415.6 85L416.1 86.3L416.6 81.3L417.1 76.6L417.6 75.9L418.1 78.5L418.6 85.4L419.1 85.7L419.6 81.2L420.1 77.5L420.6 74.6L421.1 79.6L421.6 84.6L422.1 85.9L422.6 82.4L423.2 75.9L423.7 75L424.2 78.7L424.7 84.4L425.2 86.9L425.7 80.7L426.2 75.3L426.7 74.4L427.2 79.1L427.7 85.1L428.2 85.5L428.7 81.7L429.2 73.6L429.7 74.9L430.2 80.1L430.7 84.6L431.2 84.8L431.7 81.8L432.2 76.7L432.7 73.4L433.2 79.1L433.7 84.9L434.2 85.5L434.7 82.1L435.2 76L435.7 73.5L436.2 79.6L436.7 84.9L437.2 86.5L437.7 81L438.2 75.2L438.7 74.6L439.2 70.5L439.7 71L440.2 70.5L440.7 73.3L441.2 77.1L441.7 80.6L442.2 86L442.7 91L443.2 94.7L443.7 96.8L444.2 93.7L444.7 90.3L445.2 88.9L445.7 87.3L446.2 85.8L446.7 84.3L447.2 81.6L447.7 80.6L448.2 81.9L448.7 84.2L449.2 84.9L449.7 82.1L450.2 78.7L450.7 78.5L451.2 81.7L451.7 84.6L452.2 86.2L452.7 84.2L453.2 80.6L453.7 79.5L454.2 83.2L454.7 87.4L455.2 88.8L455.7 85.8L456.2 81.1L456.7 80.6L457.2 84.5L457.7 87.8L458.2 87.9L458.7 86L459.2 82.3L459.7 81L460.2 83.5L460.7 86.9L461.2 87.5L461.8 84.3L462.3 80.3L462.8 80.2L463.3 82.5L463.8 86.4L464.3 87.5L464.8 85.1L465.3 80.6L465.8 81.1L466.3 83.4L466.8 87.8L467.3 87.8L467.8 84.2L468.3 80.4L468.8 79.2L469.3 83.1L469.8 86.4L470.3 87.4L470.8 84.2L471.3 80.4L471.8 79.4L472.3 82.3L472.8 86.1L473.3 87.6L473.8 84L474.3 79.5L474.8 79.2L475.3 82.6L475.8 86L476.3 86.6L476.8 85.2L477.3 79.5L477.8 79.1L478.3 82.4L478.8 86.7L479.3 86.9L479.8 83.6L480.3 81L480.8 79.3L481.3 82.4L481.8 85.5L482.3 86.4L482.8 83.8L483.3 80.4L483.8 79.2L484.3 82.2L484.8 86.1L485.3 87.2L485.8 84.2L486.3 80.1L486.8 79.8L487.3 82.5L487.8 85.5L488.3 87.1L488.8 84L489.3 79.5L489.8 79.3L490.3 82L490.8 86.2L491.3 86.7L491.8 83.4" fill="none" stroke="#0000ff" stroke-width="1.5" stroke-dasharray="5 1.3 2.5 1.3" stroke-linejoin="round" clip-path="url(#i2)"/>
<path d="M363 71.8L363.5 81L364 89.8L364.5 87.3L365 81.1L365.5 75.4L366 76.4L366.5 80.9L367 87.5L367.5 87.7L368 80.3L368.5 73.7L369 72.5L369.5 82.2L370 87.8L370.5 86.8L371 81.8L371.5 74.3L372 73.5L372.5 80.8L373 86.8L373.5 89.2L374 80.1L374.5 75L375 74.2L375.5 81.6L376 87.7L376.5 87.9L377 80.8L377.5 74.7L378 72.6L378.5 80.6L379 87.9L379.5 87.6L380 80.7L380.5 73.9L381 74.2L381.5 81.6L382 87.9L382.5 87.2L383 80.8L383.5 74.5L384 73.8L384.5 81.3L385.1 88L385.6 87.5L386.1 80.3L386.6 73.3L387.1 75L387.6 80.7L388.1 88.4L388.6 87L389.1 81.6L389.6 75.3L390.1 74.3L390.6 80.7L391.1 89.8L391.6 89.1L392.1 80.4L392.6 74L393.1 73.8L393.6 82.3L394.1 86.9L394.6 87.5L395.1 80.7L395.6 75.5L396.1 74.2L396.6 79.9L397.1 87.6L397.6 87.6L398.1 81.6L398.6 73.4L399.1 73.5L399.6 81.1L400.1 89.3L400.6 89.3L401.1 80.3L401.6 73.1L402.1 73.7L402.6 79.5L403.1 87.4L403.6 87.1L404.1 80.6L404.6 74.4L405.1 72.3L405.6 81.7L406.1 88.6L406.6 88.8L407.1 81.5L407.6 73.3L408.1 76L408.6 79.5L409.1 86.9L409.6 88.1L410.1 79.6L410.6 72.4L411.1 74.6L411.6 79.7L412.1 86.3L412.6 86.7L413.1 81L413.6 74.4L414.1 73.2L414.6 80.6L415.1 85.9L415.6 86L416.1 80.8L416.6 74.4L417.1 74.6L417.6 80.3L418.1 85.1L418.6 86.1L419.1 80.3L419.6 75.9L420.1 73.7L420.6 81.2L421.1 87.1L421.6 86L422.1 79.2L422.6 74.5L423.2 75.3L423.7 79.9L424.2 86.3L424.7 85.9L425.2 81.5L425.7 73.7L426.2 73.2L426.7 81.2L427.2 87.4L427.7 87.9L428.2 80L428.7 75.8L429.2 74.5L429.7 80.3L430.2 86.3L430.7 85.3L431.2 81.9L431.7 75.1L432.2 74.1L432.7 79.6L433.2 86.3L433.7 86.4L434.2 80.1L434.7 74.5L435.2 74.1L435.7 80.4L436.2 86.4L436.7 84.7L437.2 81.3L437.7 73.5L438.2 73.5L438.7 79.2L439.2 75.9L439.7 71.3L440.2 67.4L440.7 70.2L441.2 76.8L441.7 82.2L442.2 87.8L442.7 91.3L443.2 92.8L443.7 94.7L444.2 93L444.7 92.1L445.2 91.2L445.7 87.8L446.2 84.2L446.7 81.3L447.2 81L447.7 82.3L448.2 84.9L448.7 85L449.2 81.1L449.7 77.5L450.2 77.9L450.7 80.9L451.2 85.6L451.7 85.6L452.2 82.8L452.7 79L453.2 80.3L453.7 84.3L454.2 88.7L454.7 88L455.2 85.3L455.7 81.2L456.2 81L456.7 84.1L457.2 87.9L457.7 88.6L458.2 84.1L458.7 80.4L459.2 79.8L459.7 83.7L460.2 88.8L460.7 88.6L461.2 84.4L461.8 80.2L462.3 80.5L462.8 84L463.3 87.4L463.8 87.9L464.3 83.8L464.8 79.9L465.3 79.7L465.8 83.4L466.3 87.6L466.8 87.5L467.3 83.6L467.8 79.9L468.3 79.7L468.8 83.6L469.3 88.3L469.8 87.9L470.3 83L470.8 80.2L471.3 81.5L471.8 83.5L472.3 87.2L472.8 88.1L473.3 82.5L473.8 78.8L474.3 78.7L474.8 83.4L475.3 87L475.8 86.8L476.3 83.2L476.8 79.5L477.3 78.6L477.8 83.1L478.3 87.3L478.8 88L479.3 83.2L479.8 79.2L480.3 79L480.8 82.9L481.3 88L481.8 87.1L482.3 82.8L482.8 79.8L483.3 79.2L483.8 83.3L484.3 87.4L484.8 87L485.3 82.8L485.8 77.9L486.3 78.9L486.8 83.3L487.3 86.3L487.8 87.5L488.3 82L488.8 78.5L489.3 77.8L489.8 82.5L490.3 87.3L490.8 86.8L491.3 83.1L491.8 78.6" fill="none" stroke="#00ff00" stroke-width="1.5" stroke-dasharray="5 5.1" stroke-linejoin="round" clip-path="url(#i2)"/>
<path d="M363 71.7L363.5 77.4L364 86.9L364.5 93.3L365 86.7L365.5 75.2L366 69.4L366.5 77L367 86L367.5 90.3L368 85L368.5 75.9L369 73.3L369.5 78.8L370 84.8L370.5 92.7L371 84.4L371.5 77.8L372 69.7L372.5 75.7L373 87.7L373.5 94.6L374 88.5L374.5 74.2L375 71.3L375.5 76.6L376 87.3L376.5 89.9L377 86L377.5 76.8L378 68.7L378.5 78.6L379 86L379.5 89.9L380 86.5L380.5 73.3L381 69.2L381.5 74.2L382 87.4L382.5 89.2L383 86L383.5 75.4L384 70.1L384.5 78.2L385.1 87.3L385.6 88.4L386.1 85.9L386.6 75.5L387.1 72.8L387.6 74.9L388.1 85.7L388.6 96.4L389.1 87L389.6 72.5L390.1 69.6L390.6 74.4L391.1 85.9L391.6 88.1L392.1 85.8L392.6 77.8L393.1 72.6L393.6 77L394.1 86.6L394.6 91.7L395.1 84.5L395.6 77.1L396.1 73.1L396.6 77.4L397.1 85.6L397.6 94.3L398.1 86.1L398.6 74.1L399.1 66.4L399.6 75.8L400.1 87.1L400.6 89.3L401.1 85.2L401.6 74.8L402.1 71.5L402.6 76.5L403.1 87.8L403.6 92.2L404.1 86.6L404.6 73.2L405.1 67.7L405.6 72.6L406.1 85.7L406.6 94.4L407.1 87.7L407.6 76.7L408.1 72.9L408.6 77.2L409.1 84.6L409.6 90.1L410.1 84.4L410.6 75.1L411.1 70.6L411.6 75.2L412.1 86.1L412.6 89.1L413.1 85.9L413.6 74.3L414.1 72.5L414.6 75.1L415.1 83.4L415.6 86.8L416.1 83.6L416.6 76.4L417.1 70.9L417.6 74.6L418.1 84.8L418.6 88L419.1 85.8L419.6 75L420.1 69.6L420.6 77.1L421.1 83.7L421.6 86.7L422.1 83.1L422.6 77.2L423.2 72.9L423.7 77.3L424.2 84.3L424.7 87.4L425.2 84.1L425.7 76.8L426.2 70.4L426.7 76.5L427.2 84.9L427.7 87.7L428.2 84.8L428.7 77.6L429.2 70.3L429.7 76.2L430.2 84.5L430.7 85.7L431.2 84.8L431.7 75.4L432.2 70.2L432.7 73.4L433.2 86.2L433.7 87.7L434.2 84.2L434.7 75L435.2 71.3L435.7 76.6L436.2 83.1L436.7 87.9L437.2 83.6L437.7 77.2L438.2 73.8L438.7 77.3L439.2 75.2L439.7 72.8L440.2 69.8L440.7 70.6L441.2 75.8L441.7 80.7L442.2 87.5L442.7 92.3L443.2 94.6L443.7 95L444.2 92.8L444.7 91.4L445.2 90.2L445.7 88.4L446.2 85.9L446.7 82L447.2 79.5L447.7 81.2L448.2 84.4L448.7 86.4L449.2 83.8L449.7 78.5L450.2 77.2L450.7 78.6L451.2 85L451.7 88.4L452.2 84.8L452.7 80.4L453.2 79L453.7 81.4L454.2 86.8L454.7 91.2L455.2 86.8L455.7 81.3L456.2 79.3L456.7 82.2L457.2 86.8L457.7 91.2L458.2 85.6L458.7 82.6L459.2 79.2L459.7 83.7L460.2 87.1L460.7 90.3L461.2 87.1L461.8 80.6L462.3 76.7L462.8 78.7L463.3 87.4L463.8 92.3L464.3 87.4L464.8 82.9L465.3 78.2L465.8 79.7L466.3 88.1L466.8 91.8L467.3 88.3L467.8 80.3L468.3 78.7L468.8 80.9L469.3 86.4L469.8 89.8L470.3 86.8L470.8 81.4L471.3 76.5L471.8 80.5L472.3 86.9L472.8 88.8L473.3 86.4L473.8 80.9L474.3 77.2L474.8 80.9L475.3 86.5L475.8 89.4L476.3 86.5L476.8 80.5L477.3 78.7L477.8 81.8L478.3 86L478.8 88L479.3 84.4L479.8 81.8L480.3 78.1L480.8 81.1L481.3 85.7L481.8 88.9L482.3 85.5L482.8 80.4L483.3 79.7L483.8 81L484.3 84.4L484.8 87.6L485.3 86.8L485.8 78.7L486.3 76.9L486.8 79.7L487.3 86.1L487.8 88.6L488.3 85.8L488.8 80L489.3 78.7L489.8 80.9L490.3 86.1L490.8 89.4L491.3 87L491.8 79.4" fill="none" stroke="#000000" stroke-width="1.5" stroke-dasharray="5 1.3 2.5 1.3" stroke-linejoin="round" clip-path="url(#i2)"/>
<path d="M363 74L363.5 75.4L364 82L364.5 87.5L365 86.6L365.5 79.5L366 74.9L366.5 76.5L367 82.9L367.5 87.9L368 86.5L368.5 79.9L369 73.5L369.5 75L370 81.2L370.5 87.1L371 86.8L371.5 79.9L372 75.7L372.5 74.3L373 82.9L373.5 88.4L374 85.5L374.5 80.7L375 74.1L375.5 75.2L376 82.9L376.5 88.1L377 86.9L377.5 79.3L378 73.6L378.5 74.5L379 82.8L379.5 87.9L380 85.8L380.5 81.3L381 75.4L381.5 75.6L382 84L382.5 91.5L383 86.9L383.5 80.4L384 74.3L384.5 75.9L385.1 82.4L385.6 88.2L386.1 86.4L386.6 80.7L387.1 75.6L387.6 75.4L388.1 82.6L388.6 87.8L389.1 87L389.6 80.1L390.1 74.6L390.6 74.7L391.1 83.1L391.6 87.4L392.1 88.1L392.6 79.6L393.1 73L393.6 75.7L394.1 83.7L394.6 87.5L395.1 86.6L395.6 80.2L396.1 73.8L396.6 74.1L397.1 82.7L397.6 89L398.1 86.3L398.6 79.9L399.1 75.4L399.6 75.3L400.1 82.5L400.6 86.4L401.1 86.5L401.6 79.6L402.1 73.9L402.6 75.3L403.1 81.8L403.6 87.7L404.1 85.8L404.6 79.6L405.1 74L405.6 75.3L406.1 80.6L406.6 89.3L407.1 86L407.6 80.2L408.1 74.3L408.6 74.5L409.1 82.7L409.6 86.5L410.1 86.9L410.6 80L411.1 74.1L411.6 76.5L412.1 80.9L412.6 85.5L413.1 87.1L413.6 80.3L414.1 74.3L414.6 74.9L415.1 82.3L415.6 87.1L416.1 84.8L416.6 80L417.1 74.7L417.6 76.8L418.1 80.8L418.6 85.2L419.1 85.7L419.6 81L420.1 76.2L420.6 75.4L421.1 81.8L421.6 85L422.1 85.9L422.6 80L423.2 74.4L423.7 74.8L424.2 81.7L424.7 87.1L425.2 85L425.7 79.3L426.2 74.7L426.7 76.1L427.2 81.9L427.7 86L428.2 87L428.7 79.1L429.2 72.8L429.7 74.8L430.2 82.2L430.7 87.1L431.2 84.3L431.7 79.7L432.2 74.6L432.7 75.6L433.2 81.8L433.7 85.7L434.2 83.7L434.7 79.8L435.2 74L435.7 75.7L436.2 81.3L436.7 85.9L437.2 84.7L437.7 78.7L438.2 74.5L438.7 75.1L439.2 71.9L439.7 72.2L440.2 70.8L440.7 72.2L441.2 76.9L441.7 80.9L442.2 86.2L442.7 91.2L443.2 94.1L443.7 96.1L444.2 93.2L444.7 90.8L445.2 89.5L445.7 88.2L446.2 85.8L446.7 83L447.2 80.8L447.7 80.8L448.2 82.8L448.7 85.3L449.2 84.5L449.7 80.7L450.2 78.4L450.7 78.6L451.2 82.9L451.7 86.8L452.2 86.1L452.7 82.4L453.2 79.8L453.7 80.8L454.2 85.3L454.7 87.9L455.2 88.3L455.7 83.7L456.2 80.4L456.7 82L457.2 85.6L457.7 88.5L458.2 88.1L458.7 83.3L459.2 81.2L459.7 82.1L460.2 85.4L460.7 88.1L461.2 87.6L461.8 84L462.3 80.2L462.8 81.5L463.3 85.1L463.8 87.8L464.3 87.5L464.8 83.4L465.3 80.8L465.8 79.9L466.3 84.9L466.8 87.6L467.3 87.5L467.8 83.8L468.3 80.2L468.8 81.1L469.3 84.7L469.8 87.3L470.3 86.5L470.8 82.2L471.3 78.5L471.8 80.2L472.3 83.7L472.8 86.9L473.3 87.1L473.8 83.2L474.3 80.1L474.8 79.7L475.3 84.3L475.8 87.4L476.3 86.1L476.8 82.9L477.3 79.5L477.8 80L478.3 84L478.8 88L479.3 86.9L479.8 82.3L480.3 80L480.8 79.4L481.3 84.1L481.8 87.4L482.3 86.4L482.8 83.3L483.3 79.9L483.8 80.6L484.3 83.7L484.8 86.4L485.3 86.6L485.8 82.2L486.3 79.5L486.8 79.6L487.3 83.9L487.8 87.3L488.3 86L488.8 81.5L489.3 79L489.8 79.6L490.3 84.2L490.8 85.9L491.3 85.8L491.8 82.8" fill="none" stroke="#ff00ff" stroke-width="1.5" stroke-dasharray="1.2 1.5" stroke-linejoin="round" clip-path="url(#i2)"/>
<path d="M354.4 101.4v-1.4M354.4 63.9v1.4M388.8 101.4v-1.4M388.8 63.9v1.4M423.1 101.4v-1.4M423.1 63.9v1.4M457.5 101.4v-1.4M457.5 63.9v1.4M491.9 101.4v-1.4M491.9 63.9v1.4M354.4 63.9h1.4M491.9 63.9h-1.4M354.4 82.7h1.4M491.9 82.7h-1.4M354.4 101.4h1.4M491.9 101.4h-1.4" stroke="#8a8a8a" stroke-width="1" fill="none"/>
<rect x="354.4" y="63.9" width="137.5" height="37.50000000000001" fill="none" stroke="#8a8a8a" stroke-width="1"/>
<g font-size="5.5" fill="#222222" text-anchor="middle">
<text x="354.4" y="108.3">20</text>
<text x="388.8" y="108.3">40</text>
<text x="423.1" y="108.3">60</text>
<text x="457.5" y="108.3">80</text>
<text x="491.9" y="108.3">100</text>
</g>
<g font-size="5.5" fill="#222222" text-anchor="end">
<text x="352.8" y="66.3">0.05</text>
<text x="352.8" y="85">0</text>
<text x="352.8" y="103.8">-0.05</text>
</g>
<rect x="500.7" y="12.6" width="34.400000000000034" height="60.4" fill="#fff" stroke="#a0a0a0" stroke-width="0.8"/>
<path d="M503.09999999999997 19.8H522.6" stroke="#ff0000" stroke-width="1.8" fill="none"/>
<text x="525" y="22.4" font-family="'Liberation Serif','DejaVu Serif',serif" font-style="italic" font-size="11.3" fill="#1a1a1a">y<tspan font-style="normal" font-size="6.5" dx="0.3" dy="1.6">1</tspan></text>
<text x="525.6" y="18.4" font-family="'Liberation Serif','DejaVu Serif',serif" font-size="8" fill="#1a1a1a">~</text>
<path d="M503.09999999999997 31.5H522.6" stroke="#0000ff" stroke-width="1.8" stroke-dasharray="5 1.3 2.5 1.3" fill="none"/>
<text x="525" y="34.1" font-family="'Liberation Serif','DejaVu Serif',serif" font-style="italic" font-size="11.3" fill="#1a1a1a">y<tspan font-style="normal" font-size="6.5" dx="0.3" dy="1.6">2</tspan></text>
<text x="525.6" y="30.1" font-family="'Liberation Serif','DejaVu Serif',serif" font-size="8" fill="#1a1a1a">~</text>
<path d="M503.09999999999997 43.2H522.6" stroke="#00ff00" stroke-width="1.8" stroke-dasharray="5 5.1" fill="none"/>
<text x="525" y="45.8" font-family="'Liberation Serif','DejaVu Serif',serif" font-style="italic" font-size="11.3" fill="#1a1a1a">y<tspan font-style="normal" font-size="6.5" dx="0.3" dy="1.6">3</tspan></text>
<text x="525.6" y="41.8" font-family="'Liberation Serif','DejaVu Serif',serif" font-size="8" fill="#1a1a1a">~</text>
<path d="M503.09999999999997 54.8H522.6" stroke="#000000" stroke-width="1.8" stroke-dasharray="5 1.3 2.5 1.3" fill="none"/>
<text x="525" y="57.4" font-family="'Liberation Serif','DejaVu Serif',serif" font-style="italic" font-size="11.3" fill="#1a1a1a">y<tspan font-style="normal" font-size="6.5" dx="0.3" dy="1.6">4</tspan></text>
<text x="525.6" y="53.4" font-family="'Liberation Serif','DejaVu Serif',serif" font-size="8" fill="#1a1a1a">~</text>
<path d="M503.09999999999997 66.5H522.6" stroke="#ff00ff" stroke-width="1.8" stroke-dasharray="1.4 1.2" fill="none"/>
<text x="525" y="69.1" font-family="'Liberation Serif','DejaVu Serif',serif" font-style="italic" font-size="11.3" fill="#1a1a1a">y<tspan font-style="normal" font-size="6.5" dx="0.3" dy="1.6">5</tspan></text>
<text x="525.6" y="65.1" font-family="'Liberation Serif','DejaVu Serif',serif" font-size="8" fill="#1a1a1a">~</text>
<clipPath id="c3"><rect x="174.5" y="161.5" width="221.0" height="119.0"/></clipPath>
<rect x="174.5" y="161.5" width="221.0" height="119.0" fill="#fff"/>
<path d="M218.7 161.5V280.5M262.9 161.5V280.5M307.1 161.5V280.5M351.3 161.5V280.5M174.5 178.5H395.5M174.5 195.5H395.5M174.5 212.5H395.5M174.5 229.5H395.5M174.5 246.5H395.5M174.5 263.5H395.5" stroke="#e4e4e4" stroke-width="0.5" fill="none"/>
<path d="M174.5 262.6L174.5 260.8L174.6 259L174.6 257.3L174.7 255.5L174.7 253.8L174.8 252.1L174.8 250.4L174.9 248.8L174.9 247.2L174.9 245.6L175 244.1L175 242.6L175.1 241.2L175.1 239.7L175.2 238.4L175.2 237L175.3 235.7L175.3 234.5L175.3 233.3L175.4 232.2L175.4 231.1L175.5 230L175.5 229L175.6 228L175.6 227.1L175.6 226.1L175.7 225.2L175.7 224.3L175.8 223.4L175.8 222.5L175.9 221.7L175.9 220.9L176 220.1L176 219.3L176 218.6L176.1 217.8L176.1 217.1L176.2 216.5L176.2 215.8L176.3 215.2L176.3 214.6L176.4 214L176.4 213.5L176.4 213L176.5 212.5L176.5 212L176.6 211.6L176.6 211.1L176.7 210.7L176.7 210.3L176.8 209.8L176.8 209.4L176.8 209L176.9 208.6L176.9 208.2L177 207.8L177 207.4L177.1 207.1L177.1 206.7L177.2 206.4L177.2 206L177.2 205.7L177.3 205.4L177.3 205L177.4 204.7L177.4 204.4L177.5 204.1L177.5 203.9L177.5 203.6L177.6 203.3L177.6 203.1L177.7 202.8L177.7 202.6L177.8 202.4L177.8 202.1L177.9 201.9L177.9 201.7L177.9 201.6L178 201.4L178 201.2L178.1 201.1L178.1 200.9L178.2 200.8L178.2 200.6L178.3 200.4L178.3 200.3L178.3 200.1L178.4 200L178.4 199.8L178.5 199.7L178.5 199.6L178.6 199.4L178.6 199.3L178.7 199.2L178.7 199L178.7 198.9L178.8 198.8L178.8 198.7L178.9 198.6L178.9 198.5L179.1 198.2L179.4 198.1L179.6 198.1L179.8 198.3L180 198.6L180.2 199L180.5 199.5L180.7 200.1L180.9 200.7L181.1 201.5L181.4 202.3L181.6 203.1L181.8 204L182 204.9L182.2 205.9L182.5 206.8L182.7 207.8L182.9 208.8L183.1 209.8L183.3 210.7L183.6 211.6L183.8 212.5L184 213.4L184.2 214.2L184.4 214.9L184.7 215.6L184.9 216.2L185.1 216.7L185.3 217.1L185.6 217.4L185.8 217.5L186 217.6L186.2 217.6L186.4 217.5L186.7 217.4L186.9 217.2L187.1 217L187.3 216.8L187.5 216.5L187.8 216.2L188 215.8L188.2 215.5L188.4 215.1L188.6 214.7L188.9 214.3L189.1 213.9L189.3 213.5L189.5 213.1L189.7 212.7L190 212.3L190.2 211.9L190.4 211.6L190.6 211.2L190.9 210.9L191.1 210.6L191.3 210.3L191.5 210L191.7 209.8L192 209.7L192.2 209.5L192.4 209.5L192.6 209.4L192.8 209.5L193.1 209.5L193.3 209.6L193.5 209.6L193.7 209.8L193.9 209.9L194.2 210L194.4 210.2L194.6 210.4L194.8 210.5L195.1 210.7L195.3 210.9L195.5 211.1L195.7 211.4L195.9 211.6L196.2 211.8L196.4 212L196.6 212.2L196.8 212.4L197 212.6L197.3 212.8L197.5 212.9L197.7 213.1L197.9 213.2L198.1 213.4L198.4 213.5L198.6 213.6L198.8 213.6L199 213.7L199.3 213.7L199.5 213.7L199.7 213.7L199.9 213.6L200.1 213.6L200.4 213.6L200.6 213.5L200.8 213.5L201 213.4L201.2 213.3L201.5 213.3L201.7 213.2L201.9 213.1L202.1 213L202.3 213L202.6 212.9L202.8 212.8L203 212.7L203.2 212.6L203.5 212.6L203.7 212.5L203.9 212.4L204.1 212.3L204.3 212.3L204.6 212.2L204.8 212.2L205 212.1L205.2 212.1L205.4 212L205.7 212L205.9 212L206.1 212L206.3 212L206.5 212L206.8 212L207 212L207.2 212L207.4 212.1L207.7 212.1L207.9 212.1L208.1 212.1L208.3 212.2L208.5 212.2L208.8 212.2L209 212.3L209.2 212.3L209.4 212.3L209.6 212.4L209.9 212.4L210.1 212.4L210.3 212.5L210.5 212.5L210.7 212.5L211 212.6L211.2 212.6L211.4 212.6L211.6 212.6L211.8 212.6L212.1 212.7L212.3 212.7L212.5 212.7L212.7 212.7L213 212.7L213.2 212.7L213.4 212.7L213.6 212.7L213.8 212.7L214.1 212.6L214.3 212.6L214.5 212.6L214.7 212.6L214.9 212.6L215.2 212.6L215.4 212.6L215.6 212.6L215.8 212.6L216 212.6L216.3 212.6L216.5 212.6L216.7 212.5L216.9 212.5L217.2 212.5L217.4 212.5L217.6 212.5L217.8 212.5L218 212.5L218.3 212.5L218.5 212.5L218.7 212.5L223.1 212.5L227.5 212.5L232 212.5L236.4 212.5L240.8 212.5L245.2 212.5L249.6 212.5L254.1 212.5L258.5 212.5L262.9 212.5L267.3 212.5L271.7 212.5L276.2 212.5L280.6 212.5L285 212.5L289.4 212.5L293.8 212.5L298.3 212.5L302.7 212.5L307.1 212.5L311.5 212.5L315.9 212.5L320.4 212.5L324.8 212.5L329.2 212.5L333.6 212.5L338 212.5L342.5 212.5L346.9 212.5L351.3 212.5L355.7 212.5L360.1 212.5L364.6 212.5L369 212.5L373.4 212.5L377.8 212.5L382.2 212.5L386.7 212.5L391.1 212.5L395.5 212.5" fill="none" stroke="#ff0000" stroke-width="1.6" stroke-linejoin="round" clip-path="url(#c3)"/>
<path d="M174.5 263L174.5 261.3L174.6 259.6L174.6 257.9L174.7 256.3L174.7 254.7L174.8 253.1L174.8 251.5L174.9 250L174.9 248.5L174.9 247L175 245.5L175 244.1L175.1 242.7L175.1 241.3L175.2 240L175.2 238.7L175.3 237.4L175.3 236.2L175.3 235L175.4 233.8L175.4 232.7L175.5 231.6L175.5 230.5L175.6 229.5L175.6 228.5L175.6 227.5L175.7 226.6L175.7 225.7L175.8 224.7L175.8 223.8L175.9 223L175.9 222.1L176 221.3L176 220.4L176 219.7L176.1 218.9L176.1 218.1L176.2 217.4L176.2 216.7L176.3 216L176.3 215.3L176.4 214.7L176.4 214.1L176.4 213.5L176.5 212.9L176.5 212.4L176.6 211.8L176.6 211.3L176.7 210.8L176.7 210.3L176.8 209.7L176.8 209.2L176.8 208.7L176.9 208.3L176.9 207.8L177 207.3L177 206.8L177.1 206.4L177.1 205.9L177.2 205.5L177.2 205L177.2 204.6L177.3 204.2L177.3 203.8L177.4 203.4L177.4 203L177.5 202.6L177.5 202.3L177.5 201.9L177.6 201.6L177.6 201.3L177.7 201L177.7 200.7L177.8 200.4L177.8 200.1L177.9 199.9L177.9 199.6L177.9 199.4L178 199.2L178 199L178.1 198.8L178.1 198.6L178.2 198.4L178.2 198.2L178.3 198L178.3 197.8L178.3 197.7L178.4 197.5L178.4 197.3L178.5 197.1L178.5 197L178.6 196.8L178.6 196.7L178.7 196.5L178.7 196.4L178.7 196.2L178.8 196.1L178.8 196L178.9 195.8L178.9 195.7L179.1 195.3L179.4 195.2L179.6 195.2L179.8 195.5L180 195.8L180.2 196.3L180.5 196.8L180.7 197.5L180.9 198.3L181.1 199.2L181.4 200.1L181.6 201.1L181.8 202.1L182 203.2L182.2 204.3L182.5 205.4L182.7 206.6L182.9 207.7L183.1 208.8L183.3 209.9L183.6 211L183.8 212L184 213L184.2 213.9L184.4 214.8L184.7 215.6L184.9 216.3L185.1 216.8L185.3 217.3L185.6 217.6L185.8 217.9L186 217.9L186.2 217.9L186.4 217.8L186.7 217.7L186.9 217.5L187.1 217.3L187.3 217L187.5 216.7L187.8 216.4L188 216.1L188.2 215.7L188.4 215.3L188.6 214.9L188.9 214.5L189.1 214L189.3 213.6L189.5 213.2L189.7 212.7L190 212.3L190.2 211.9L190.4 211.5L190.6 211.1L190.9 210.8L191.1 210.5L191.3 210.2L191.5 209.9L191.7 209.7L192 209.5L192.2 209.4L192.4 209.3L192.6 209.3L192.8 209.3L193.1 209.3L193.3 209.4L193.5 209.5L193.7 209.6L193.9 209.7L194.2 209.9L194.4 210L194.6 210.2L194.8 210.4L195.1 210.6L195.3 210.8L195.5 211L195.7 211.3L195.9 211.5L196.2 211.7L196.4 211.9L196.6 212.1L196.8 212.3L197 212.5L197.3 212.7L197.5 212.9L197.7 213.1L197.9 213.2L198.1 213.4L198.4 213.5L198.6 213.6L198.8 213.6L199 213.7L199.3 213.7L199.5 213.7L199.7 213.7L199.9 213.6L200.1 213.6L200.4 213.6L200.6 213.5L200.8 213.5L201 213.4L201.2 213.3L201.5 213.3L201.7 213.2L201.9 213.1L202.1 213L202.3 213L202.6 212.9L202.8 212.8L203 212.7L203.2 212.6L203.5 212.6L203.7 212.5L203.9 212.4L204.1 212.3L204.3 212.3L204.6 212.2L204.8 212.2L205 212.1L205.2 212.1L205.4 212L205.7 212L205.9 212L206.1 212L206.3 212L206.5 212L206.8 212L207 212L207.2 212L207.4 212.1L207.7 212.1L207.9 212.1L208.1 212.1L208.3 212.2L208.5 212.2L208.8 212.2L209 212.3L209.2 212.3L209.4 212.3L209.6 212.4L209.9 212.4L210.1 212.4L210.3 212.5L210.5 212.5L210.7 212.5L211 212.6L211.2 212.6L211.4 212.6L211.6 212.6L211.8 212.6L212.1 212.7L212.3 212.7L212.5 212.7L212.7 212.7L213 212.7L213.2 212.7L213.4 212.7L213.6 212.7L213.8 212.7L214.1 212.6L214.3 212.6L214.5 212.6L214.7 212.6L214.9 212.6L215.2 212.6L215.4 212.6L215.6 212.6L215.8 212.6L216 212.6L216.3 212.6L216.5 212.6L216.7 212.5L216.9 212.5L217.2 212.5L217.4 212.5L217.6 212.5L217.8 212.5L218 212.5L218.3 212.5L218.5 212.5L218.7 212.5L223.1 212.5L227.5 212.5L232 212.5L236.4 212.5L240.8 212.5L245.2 212.5L249.6 212.5L254.1 212.5L258.5 212.5L262.9 212.5L267.3 212.5L271.7 212.5L276.2 212.5L280.6 212.5L285 212.5L289.4 212.5L293.8 212.5L298.3 212.5L302.7 212.5L307.1 212.5L311.5 212.5L315.9 212.5L320.4 212.5L324.8 212.5L329.2 212.5L333.6 212.5L338 212.5L342.5 212.5L346.9 212.5L351.3 212.5L355.7 212.5L360.1 212.5L364.6 212.5L369 212.5L373.4 212.5L377.8 212.5L382.2 212.5L386.7 212.5L391.1 212.5L395.5 212.5" fill="none" stroke="#0000ff" stroke-width="1.6" stroke-dasharray="5 1.3 2.5 1.3" stroke-linejoin="round" clip-path="url(#c3)"/>
<path d="M174.5 263.3L174.5 261.7L174.6 260.1L174.6 258.6L174.7 257L174.7 255.5L174.8 254L174.8 252.5L174.9 251.1L174.9 249.6L174.9 248.2L175 246.8L175 245.5L175.1 244.1L175.1 242.8L175.2 241.5L175.2 240.2L175.3 239L175.3 237.8L175.3 236.6L175.4 235.4L175.4 234.3L175.5 233.2L175.5 232.1L175.6 231L175.6 230L175.6 229L175.7 228L175.7 227.1L175.8 226.2L175.8 225.2L175.9 224.4L175.9 223.5L176 222.6L176 221.8L176 221L176.1 220.2L176.1 219.4L176.2 218.6L176.2 217.9L176.3 217.1L176.3 216.4L176.4 215.7L176.4 214.9L176.4 214.2L176.5 213.5L176.5 212.8L176.6 212.2L176.6 211.5L176.7 210.8L176.7 210.1L176.8 209.4L176.8 208.7L176.8 207.9L176.9 207.2L176.9 206.5L177 205.8L177 205.1L177.1 204.5L177.1 203.8L177.2 203.1L177.2 202.4L177.2 201.8L177.3 201.1L177.3 200.5L177.4 199.9L177.4 199.3L177.5 198.7L177.5 198.1L177.5 197.5L177.6 197L177.6 196.5L177.7 196L177.7 195.5L177.8 195.1L177.8 194.6L177.9 194.2L177.9 193.8L177.9 193.5L178 193.2L178 192.9L178.1 192.6L178.1 192.3L178.2 192L178.2 191.8L178.3 191.5L178.3 191.2L178.3 191L178.4 190.7L178.4 190.5L178.5 190.2L178.5 190L178.6 189.7L178.6 189.5L178.7 189.3L178.7 189.1L178.7 188.9L178.8 188.7L178.8 188.5L178.9 188.3L178.9 188.2L179.1 187.6L179.4 187.3L179.6 187.4L179.8 187.7L180 188.2L180.2 188.9L180.5 189.7L180.7 190.6L180.9 191.7L181.1 192.9L181.4 194.2L181.6 195.5L181.8 197L182 198.5L182.2 200L182.5 201.6L182.7 203.2L182.9 204.7L183.1 206.3L183.3 207.8L183.6 209.3L183.8 210.8L184 212.1L184.2 213.4L184.4 214.6L184.7 215.7L184.9 216.6L185.1 217.4L185.3 218.1L185.6 218.6L185.8 218.9L186 219L186.2 218.9L186.4 218.8L186.7 218.7L186.9 218.5L187.1 218.2L187.3 217.9L187.5 217.6L187.8 217.2L188 216.8L188.2 216.3L188.4 215.9L188.6 215.4L188.9 214.9L189.1 214.4L189.3 213.9L189.5 213.4L189.7 212.8L190 212.4L190.2 211.9L190.4 211.4L190.6 211L190.9 210.5L191.1 210.2L191.3 209.8L191.5 209.5L191.7 209.3L192 209L192.2 208.9L192.4 208.8L192.6 208.8L192.8 208.8L193.1 208.8L193.3 208.9L193.5 209L193.7 209.1L193.9 209.3L194.2 209.4L194.4 209.6L194.6 209.8L194.8 210L195.1 210.3L195.3 210.5L195.5 210.7L195.7 211L195.9 211.2L196.2 211.5L196.4 211.7L196.6 212L196.8 212.2L197 212.4L197.3 212.6L197.5 212.8L197.7 213L197.9 213.2L198.1 213.3L198.4 213.5L198.6 213.6L198.8 213.6L199 213.7L199.3 213.7L199.5 213.7L199.7 213.7L199.9 213.6L200.1 213.6L200.4 213.6L200.6 213.5L200.8 213.5L201 213.4L201.2 213.3L201.5 213.3L201.7 213.2L201.9 213.1L202.1 213L202.3 213L202.6 212.9L202.8 212.8L203 212.7L203.2 212.6L203.5 212.6L203.7 212.5L203.9 212.4L204.1 212.3L204.3 212.3L204.6 212.2L204.8 212.2L205 212.1L205.2 212.1L205.4 212L205.7 212L205.9 212L206.1 212L206.3 212L206.5 212L206.8 212L207 212L207.2 212L207.4 212.1L207.7 212.1L207.9 212.1L208.1 212.1L208.3 212.2L208.5 212.2L208.8 212.2L209 212.3L209.2 212.3L209.4 212.3L209.6 212.4L209.9 212.4L210.1 212.4L210.3 212.5L210.5 212.5L210.7 212.5L211 212.6L211.2 212.6L211.4 212.6L211.6 212.6L211.8 212.6L212.1 212.7L212.3 212.7L212.5 212.7L212.7 212.7L213 212.7L213.2 212.7L213.4 212.7L213.6 212.7L213.8 212.7L214.1 212.6L214.3 212.6L214.5 212.6L214.7 212.6L214.9 212.6L215.2 212.6L215.4 212.6L215.6 212.6L215.8 212.6L216 212.6L216.3 212.6L216.5 212.6L216.7 212.5L216.9 212.5L217.2 212.5L217.4 212.5L217.6 212.5L217.8 212.5L218 212.5L218.3 212.5L218.5 212.5L218.7 212.5L223.1 212.5L227.5 212.5L232 212.5L236.4 212.5L240.8 212.5L245.2 212.5L249.6 212.5L254.1 212.5L258.5 212.5L262.9 212.5L267.3 212.5L271.7 212.5L276.2 212.5L280.6 212.5L285 212.5L289.4 212.5L293.8 212.5L298.3 212.5L302.7 212.5L307.1 212.5L311.5 212.5L315.9 212.5L320.4 212.5L324.8 212.5L329.2 212.5L333.6 212.5L338 212.5L342.5 212.5L346.9 212.5L351.3 212.5L355.7 212.5L360.1 212.5L364.6 212.5L369 212.5L373.4 212.5L377.8 212.5L382.2 212.5L386.7 212.5L391.1 212.5L395.5 212.5" fill="none" stroke="#00ff00" stroke-width="1.6" stroke-dasharray="5 5.1" stroke-linejoin="round" clip-path="url(#c3)"/>
<path d="M174.5 263.7L174.5 262.3L174.6 260.9L174.6 259.6L174.7 258.2L174.7 256.9L174.8 255.6L174.8 254.2L174.9 253L174.9 251.7L174.9 250.4L175 249.2L175 247.9L175.1 246.7L175.1 245.5L175.2 244.3L175.2 243.1L175.3 241.9L175.3 240.8L175.3 239.6L175.4 238.5L175.4 237.4L175.5 236.3L175.5 235.2L175.6 234.1L175.6 233.1L175.6 232L175.7 231L175.7 230L175.8 229L175.8 228L175.9 227.1L175.9 226.2L176 225.3L176 224.4L176 223.5L176.1 222.7L176.1 221.8L176.2 221L176.2 220.1L176.3 219.3L176.3 218.5L176.4 217.7L176.4 216.8L176.4 216L176.5 215.1L176.5 214.3L176.6 213.4L176.6 212.5L176.7 211.6L176.7 210.6L176.8 209.6L176.8 208.6L176.8 207.6L176.9 206.5L176.9 205.4L177 204.3L177 203.2L177.1 202.1L177.1 201L177.2 199.9L177.2 198.8L177.2 197.6L177.3 196.5L177.3 195.4L177.4 194.4L177.4 193.3L177.5 192.3L177.5 191.2L177.5 190.3L177.6 189.3L177.6 188.4L177.7 187.5L177.7 186.6L177.8 185.8L177.8 185.1L177.9 184.4L177.9 183.7L177.9 183.1L178 182.6L178 182.1L178.1 181.7L178.1 181.3L178.2 180.8L178.2 180.4L178.3 180L178.3 179.6L178.3 179.2L178.4 178.8L178.4 178.4L178.5 178L178.5 177.6L178.6 177.2L178.6 176.9L178.7 176.5L178.7 176.2L178.7 175.9L178.8 175.6L178.8 175.3L178.9 175.1L178.9 174.8L179.1 173.9L179.4 173.6L179.6 173.7L179.8 174.3L180 175.1L180.2 176.2L180.5 177.5L180.7 179.1L180.9 180.9L181.1 182.9L181.4 185.1L181.6 187.4L181.8 189.8L182 192.4L182.2 195L182.5 197.6L182.7 200.3L182.9 202.9L183.1 205.6L183.3 208.2L183.6 210.7L183.8 213.1L184 215.4L184.2 217.6L184.4 219.6L184.7 221.4L184.9 223L185.1 224.4L185.3 225.5L185.6 226.3L185.8 226.8L186 226.9L186.2 226.9L186.4 226.7L186.7 226.4L186.9 226L187.1 225.5L187.3 225L187.5 224.3L187.8 223.6L188 222.8L188.2 222L188.4 221.1L188.6 220.2L188.9 219.3L189.1 218.4L189.3 217.4L189.5 216.5L189.7 215.5L190 214.6L190.2 213.7L190.4 212.8L190.6 212L190.9 211.2L191.1 210.5L191.3 209.9L191.5 209.3L191.7 208.8L192 208.4L192.2 208.2L192.4 208L192.6 207.9L192.8 207.9L193.1 208L193.3 208.1L193.5 208.2L193.7 208.3L193.9 208.5L194.2 208.7L194.4 208.9L194.6 209.2L194.8 209.4L195.1 209.7L195.3 209.9L195.5 210.2L195.7 210.5L195.9 210.8L196.2 211.1L196.4 211.4L196.6 211.7L196.8 211.9L197 212.2L197.3 212.4L197.5 212.7L197.7 212.9L197.9 213.1L198.1 213.3L198.4 213.4L198.6 213.5L198.8 213.6L199 213.7L199.3 213.7L199.5 213.7L199.7 213.7L199.9 213.6L200.1 213.6L200.4 213.6L200.6 213.5L200.8 213.5L201 213.4L201.2 213.3L201.5 213.3L201.7 213.2L201.9 213.1L202.1 213L202.3 213L202.6 212.9L202.8 212.8L203 212.7L203.2 212.6L203.5 212.6L203.7 212.5L203.9 212.4L204.1 212.3L204.3 212.3L204.6 212.2L204.8 212.2L205 212.1L205.2 212.1L205.4 212L205.7 212L205.9 212L206.1 212L206.3 212L206.5 212L206.8 212L207 212L207.2 212L207.4 212.1L207.7 212.1L207.9 212.1L208.1 212.1L208.3 212.2L208.5 212.2L208.8 212.2L209 212.3L209.2 212.3L209.4 212.3L209.6 212.4L209.9 212.4L210.1 212.4L210.3 212.5L210.5 212.5L210.7 212.5L211 212.6L211.2 212.6L211.4 212.6L211.6 212.6L211.8 212.6L212.1 212.7L212.3 212.7L212.5 212.7L212.7 212.7L213 212.7L213.2 212.7L213.4 212.7L213.6 212.7L213.8 212.7L214.1 212.6L214.3 212.6L214.5 212.6L214.7 212.6L214.9 212.6L215.2 212.6L215.4 212.6L215.6 212.6L215.8 212.6L216 212.6L216.3 212.6L216.5 212.6L216.7 212.5L216.9 212.5L217.2 212.5L217.4 212.5L217.6 212.5L217.8 212.5L218 212.5L218.3 212.5L218.5 212.5L218.7 212.5L223.1 212.5L227.5 212.5L232 212.5L236.4 212.5L240.8 212.5L245.2 212.5L249.6 212.5L254.1 212.5L258.5 212.5L262.9 212.5L267.3 212.5L271.7 212.5L276.2 212.5L280.6 212.5L285 212.5L289.4 212.5L293.8 212.5L298.3 212.5L302.7 212.5L307.1 212.5L311.5 212.5L315.9 212.5L320.4 212.5L324.8 212.5L329.2 212.5L333.6 212.5L338 212.5L342.5 212.5L346.9 212.5L351.3 212.5L355.7 212.5L360.1 212.5L364.6 212.5L369 212.5L373.4 212.5L377.8 212.5L382.2 212.5L386.7 212.5L391.1 212.5L395.5 212.5" fill="none" stroke="#000000" stroke-width="1.6" stroke-dasharray="5 1.3 2.5 1.3" stroke-linejoin="round" clip-path="url(#c3)"/>
<path d="M174.5 264L174.5 262.5L174.6 261L174.6 259.5L174.7 258L174.7 256.6L174.8 255.1L174.8 253.7L174.9 252.3L174.9 251L174.9 249.6L175 248.3L175 246.9L175.1 245.6L175.1 244.3L175.2 243.1L175.2 241.8L175.3 240.6L175.3 239.4L175.3 238.2L175.4 237.1L175.4 235.9L175.5 234.8L175.5 233.7L175.6 232.6L175.6 231.6L175.6 230.5L175.7 229.5L175.7 228.5L175.8 227.5L175.8 226.5L175.9 225.6L175.9 224.6L176 223.7L176 222.8L176 221.9L176.1 221L176.1 220.2L176.2 219.3L176.2 218.5L176.3 217.7L176.3 216.9L176.4 216.1L176.4 215.4L176.4 214.7L176.5 214L176.5 213.3L176.6 212.7L176.6 212L176.7 211.4L176.7 210.8L176.8 210.2L176.8 209.5L176.8 208.9L176.9 208.3L176.9 207.7L177 207.1L177 206.5L177.1 206L177.1 205.4L177.2 204.8L177.2 204.3L177.2 203.8L177.3 203.2L177.3 202.7L177.4 202.2L177.4 201.7L177.5 201.2L177.5 200.8L177.5 200.3L177.6 199.9L177.6 199.5L177.7 199.1L177.7 198.7L177.8 198.3L177.8 198L177.9 197.7L177.9 197.4L177.9 197.1L178 196.8L178 196.6L178.1 196.4L178.1 196.1L178.2 195.9L178.2 195.7L178.3 195.5L178.3 195.2L178.3 195L178.4 194.8L178.4 194.6L178.5 194.4L178.5 194.2L178.6 194L178.6 193.8L178.7 193.7L178.7 193.5L178.7 193.3L178.8 193.2L178.8 193L178.9 192.9L178.9 192.8L179.1 192.3L179.4 192.1L179.6 192.2L179.8 192.4L180 192.8L180.2 193.4L180.5 194L180.7 194.8L180.9 195.7L181.1 196.7L181.4 197.8L181.6 198.9L181.8 200.1L182 201.3L182.2 202.6L182.5 203.9L182.7 205.2L182.9 206.5L183.1 207.8L183.3 209.1L183.6 210.3L183.8 211.5L184 212.6L184.2 213.7L184.4 214.7L184.7 215.6L184.9 216.3L185.1 217L185.3 217.5L185.6 217.9L185.8 218.2L186 218.3L186.2 218.3L186.4 218.2L186.7 218L186.9 217.8L187.1 217.6L187.3 217.3L187.5 217L187.8 216.7L188 216.3L188.2 215.9L188.4 215.5L188.6 215L188.9 214.6L189.1 214.1L189.3 213.7L189.5 213.2L189.7 212.8L190 212.3L190.2 211.9L190.4 211.5L190.6 211.1L190.9 210.7L191.1 210.4L191.3 210.1L191.5 209.8L191.7 209.5L192 209.4L192.2 209.2L192.4 209.1L192.6 209.1L192.8 209.1L193.1 209.2L193.3 209.2L193.5 209.3L193.7 209.4L193.9 209.6L194.2 209.7L194.4 209.9L194.6 210.1L194.8 210.3L195.1 210.5L195.3 210.7L195.5 210.9L195.7 211.2L195.9 211.4L196.2 211.6L196.4 211.9L196.6 212.1L196.8 212.3L197 212.5L197.3 212.7L197.5 212.9L197.7 213.1L197.9 213.2L198.1 213.4L198.4 213.5L198.6 213.6L198.8 213.6L199 213.7L199.3 213.7L199.5 213.7L199.7 213.7L199.9 213.6L200.1 213.6L200.4 213.6L200.6 213.5L200.8 213.5L201 213.4L201.2 213.3L201.5 213.3L201.7 213.2L201.9 213.1L202.1 213L202.3 213L202.6 212.9L202.8 212.8L203 212.7L203.2 212.6L203.5 212.6L203.7 212.5L203.9 212.4L204.1 212.3L204.3 212.3L204.6 212.2L204.8 212.2L205 212.1L205.2 212.1L205.4 212L205.7 212L205.9 212L206.1 212L206.3 212L206.5 212L206.8 212L207 212L207.2 212L207.4 212.1L207.7 212.1L207.9 212.1L208.1 212.1L208.3 212.2L208.5 212.2L208.8 212.2L209 212.3L209.2 212.3L209.4 212.3L209.6 212.4L209.9 212.4L210.1 212.4L210.3 212.5L210.5 212.5L210.7 212.5L211 212.6L211.2 212.6L211.4 212.6L211.6 212.6L211.8 212.6L212.1 212.7L212.3 212.7L212.5 212.7L212.7 212.7L213 212.7L213.2 212.7L213.4 212.7L213.6 212.7L213.8 212.7L214.1 212.6L214.3 212.6L214.5 212.6L214.7 212.6L214.9 212.6L215.2 212.6L215.4 212.6L215.6 212.6L215.8 212.6L216 212.6L216.3 212.6L216.5 212.6L216.7 212.5L216.9 212.5L217.2 212.5L217.4 212.5L217.6 212.5L217.8 212.5L218 212.5L218.3 212.5L218.5 212.5L218.7 212.5L223.1 212.5L227.5 212.5L232 212.5L236.4 212.5L240.8 212.5L245.2 212.5L249.6 212.5L254.1 212.5L258.5 212.5L262.9 212.5L267.3 212.5L271.7 212.5L276.2 212.5L280.6 212.5L285 212.5L289.4 212.5L293.8 212.5L298.3 212.5L302.7 212.5L307.1 212.5L311.5 212.5L315.9 212.5L320.4 212.5L324.8 212.5L329.2 212.5L333.6 212.5L338 212.5L342.5 212.5L346.9 212.5L351.3 212.5L355.7 212.5L360.1 212.5L364.6 212.5L369 212.5L373.4 212.5L377.8 212.5L382.2 212.5L386.7 212.5L391.1 212.5L395.5 212.5" fill="none" stroke="#ff00ff" stroke-width="1.6" stroke-dasharray="1.4 1.2" stroke-linejoin="round" clip-path="url(#c3)"/>
<path d="M174.5 280.5v-2.2M174.5 161.5v2.2M218.7 280.5v-2.2M218.7 161.5v2.2M262.9 280.5v-2.2M262.9 161.5v2.2M307.1 280.5v-2.2M307.1 161.5v2.2M351.3 280.5v-2.2M351.3 161.5v2.2M395.5 280.5v-2.2M395.5 161.5v2.2M174.5 161.5h2.2M395.5 161.5h-2.2M174.5 178.5h2.2M395.5 178.5h-2.2M174.5 195.5h2.2M395.5 195.5h-2.2M174.5 212.5h2.2M395.5 212.5h-2.2M174.5 229.5h2.2M395.5 229.5h-2.2M174.5 246.5h2.2M395.5 246.5h-2.2M174.5 263.5h2.2M395.5 263.5h-2.2M174.5 280.5h2.2M395.5 280.5h-2.2" stroke="#8a8a8a" stroke-width="1" fill="none"/>
<rect x="174.5" y="161.5" width="221.0" height="119.0" fill="none" stroke="#8a8a8a" stroke-width="1"/>
<g font-size="6.8" fill="#222222" text-anchor="middle">
<text x="174.5" y="290.2">0</text>
<text x="218.7" y="290.2">20</text>
<text x="262.9" y="290.2">40</text>
<text x="307.1" y="290.2">60</text>
<text x="351.3" y="290.2">80</text>
<text x="395.5" y="290.2">100</text>
</g>
<g font-size="6.8" fill="#222222" text-anchor="end">
<text x="171.8" y="163.9">30</text>
<text x="171.8" y="180.9">20</text>
<text x="171.8" y="197.9">10</text>
<text x="171.8" y="214.9">0</text>
<text x="171.8" y="231.9">-10</text>
<text x="171.8" y="248.9">-20</text>
<text x="171.8" y="265.9">-30</text>
<text x="171.8" y="282.9">-40</text>
</g>
<text x="285.5" y="301.1" font-size="8.3" fill="#222222" text-anchor="middle">Time (s)</text>
<text transform="translate(157.7 221) rotate(-90)" font-size="8.15" fill="#222222" text-anchor="middle">Consensus errors in z-axis</text>
<clipPath id="i3"><rect x="207.1" y="227.4" width="137.50000000000003" height="37.599999999999994"/></clipPath>
<rect x="207.1" y="227.4" width="137.50000000000003" height="37.599999999999994" fill="#fff"/>
<path d="M241.5 227.4V265.0M275.9 227.4V265.0M310.2 227.4V265.0M207.1 232.6H344.6M207.1 247.7H344.6M207.1 262.8H344.6" stroke="#e4e4e4" stroke-width="0.5" fill="none"/>
<path d="M215.7 250.3L216.1 251.6L216.5 252.4L216.9 251.9L217.3 249.6L217.7 248.1L218.1 248.6L218.5 250.3L218.9 251.1L219.3 250.5L219.7 248.9L220.1 247.9L220.5 248.5L220.9 249.9L221.3 250.9L221.7 250.3L222.1 249.1L222.5 247.9L222.9 248.3L223.3 249.9L223.7 250.5L224.1 250.3L224.5 248.7L224.9 247.9L225.3 248.3L225.7 249.6L226.1 250.1L226.5 250.3L226.9 248.9L227.3 248L227.7 248.3L228.1 249.6L228.5 250.4L228.9 250.1L229.3 248.7L229.7 247.8L230.1 247.9L230.5 249.6L230.9 250L231.3 249.7L231.7 248.5L232.1 247.5L232.5 248L232.9 249.5L233.3 250.4L233.7 249.5L234.1 248.5L234.5 247.4L234.9 247.9L235.3 249.5L235.7 250L236.1 249.5L236.5 248.1L236.9 247.4L237.4 247.8L237.8 249.2L238.2 250.1L238.6 249.3L239 248.1L239.4 247.2L239.8 247.8L240.2 249L240.6 250.1L241 249.5L241.4 248L241.8 247.4L242.2 247.9L242.6 249L243 250L243.4 249.3L243.8 248L244.2 247.3L244.6 247.9L245 248.7L245.4 249.6L245.8 249.3L246.2 248.1L246.6 247.4L247 247.8L247.4 249.1L247.8 249.7L248.2 249L248.6 247.8L249 247.2L249.4 246.8L249.8 248.5L250.2 251.5L250.6 249.6L251 245.5L251.4 243.4L251.8 244.5L252.2 247.9L252.6 249.7L253 247.6L253.4 245.5L253.8 243.2L254.2 244.5L254.6 247.8L255 248.6L255.4 247.8L255.8 244.9L256.2 243.4L256.6 244.8L257 247.2L257.4 248.7L257.8 248.1L258.2 245L258.6 242.8L259 244.5L259.4 247.2L259.8 248.7L260.2 247.3L260.6 245L261 243.6L261.4 244.2L261.8 247L262.2 248.5L262.6 247.6L263 244.8L263.4 242.6L263.8 243.6L264.2 247.2L264.6 248.3L265 247.5L265.4 244.7L265.8 242.6L266.2 243.3L266.6 246.8L267 248.7L267.4 247.8L267.8 244.4L268.2 242.6L268.6 244L269 246.5L269.4 248L269.8 246.7L270.2 244.4L270.6 241.9L271 243.2L271.4 246.1L271.8 247.9L272.2 246.9L272.6 244.3L273 242.4L273.4 243.3L273.8 246.1L274.2 247.4L274.6 246.1L275 243.8L275.4 241.7L275.9 243.2L276.3 246.7L276.7 247.9L277.1 246.6L277.5 243.3L277.9 241L278.3 242.8L278.7 245.6L279.1 247.6L279.5 246.7L279.9 243.4L280.3 241.6L280.7 242.4L281.1 246.1L281.5 248.3L281.9 246.4L282.3 243.3L282.7 241.6L283.1 243.1L283.5 245.4L283.9 247.6L284.3 246.1L284.7 243.6L285.1 241.7L285.5 242.1L285.9 246L286.3 248L286.7 246.1L287.1 243.2L287.5 241.9L287.9 241.9L288.3 245.9L288.7 247.4L289.1 246.1L289.5 242.5L289.9 241.1L290.3 241.9L290.7 245.5L291.1 247.4L291.5 246.8L291.9 242.9L292.3 241.3L292.7 242.7L293.1 245L293.5 246.6L293.9 246.7L294.3 243.5L294.7 239.1L295.1 242.4L295.5 249.7L295.9 255.6L296.3 253.2L296.7 243.6L297.1 236.9L297.5 241.4L297.9 251.2L298.3 257L298.7 256.2L299.1 241.6L299.5 235.5L299.9 239.9L300.3 252.4L300.7 258.9L301.1 254.9L301.5 242.4L301.9 236.2L302.3 239.8L302.7 250.8L303.1 259.6L303.5 254.8L303.9 243.8L304.3 237.1L304.7 243L305.1 251L305.5 257.1L305.9 254.3L306.3 243.6L306.7 234.1L307.1 240.4L307.5 249.1L307.9 257.2L308.3 254.2L308.7 243L309.1 237.7L309.5 241L309.9 253.6L310.3 257.4L310.7 254.6L311.1 242.4L311.5 237.6L311.9 242L312.3 252L312.7 256.9L313.1 253.9L313.5 244.6L313.9 235.7L314.4 241.4L314.8 250.3L315.2 256.5L315.6 253.9L316 242.8L316.4 236.3L316.8 239.9L317.2 250.8L317.6 257.3L318 253.8L318.4 244.3L318.8 238.2L319.2 242.2L319.6 251L320 256.5L320.4 255.3L320.8 244.4L321.2 238.7L321.6 241.7L322 250.1L322.4 258.1L322.8 253.9L323.2 246.3L323.6 237.9L324 241.2L324.4 252L324.8 259.8L325.2 254L325.6 244L326 236.1L326.4 242.6L326.8 251.2L327.2 257.1L327.6 253.3L328 246L328.4 236.1L328.8 240.3L329.2 251.7L329.6 257.8L330 253L330.4 243.9L330.8 238.4L331.2 241.6L331.6 251.1L332 257.9L332.4 254.1L332.8 244.6L333.2 238.3L333.6 242.9L334 252.5L334.4 257.4L334.8 253.3L335.2 244.2L335.6 241.7L336 243.3L336.4 251L336.8 255.9L337.2 252.8L337.6 244.4L338 238.2L338.4 241.9L338.8 249.8L339.2 257.1L339.6 254.5L340 243.4L340.4 237.3L340.8 243.6L341.2 252.2L341.6 256.1L342 252.5L342.4 245.8L342.8 238.2L343.2 240.6L343.6 251.3L344 258.8L344.4 254.1" fill="none" stroke="#ff0000" stroke-width="1.5" stroke-linejoin="round" clip-path="url(#i3)"/>
<path d="M215.7 249.7L216.1 249.1L216.5 250.6L216.9 252L217.3 251.5L217.7 250.3L218.1 248.2L218.5 248.1L218.9 248.9L219.3 250.9L219.7 251.1L220.1 249.8L220.5 248.4L220.9 248.1L221.3 249.1L221.7 250.7L222.1 250.9L222.5 249.7L222.9 248.2L223.3 247.9L223.7 249L224.1 250.5L224.5 250.6L224.9 249.5L225.3 247.8L225.7 247.6L226.1 248.8L226.5 250.1L226.9 250.6L227.3 249.2L227.7 247.8L228.1 247.6L228.5 248.7L228.9 250.4L229.3 250.2L229.7 249.2L230.1 248L230.5 247.7L230.9 248.8L231.3 250.1L231.7 250.2L232.1 249L232.5 247.6L232.9 247.4L233.3 248.7L233.7 249.9L234.1 250.1L234.5 249.4L234.9 247.7L235.3 247.5L235.7 248.7L236.1 249.7L236.5 250L236.9 249L237.4 247.8L237.8 247.6L238.2 248.6L238.6 249.9L239 250.1L239.4 249.2L239.8 247.8L240.2 247.4L240.6 248.3L241 249.8L241.4 250L241.8 248.8L242.2 247.6L242.6 247.2L243 248.4L243.4 249.5L243.8 249.9L244.2 248.5L244.6 247.4L245 247.1L245.4 248.2L245.8 249.4L246.2 249.9L246.6 248.6L247 247.1L247.4 247.4L247.8 247.9L248.2 249.4L248.6 249.5L249 248.7L249.4 246.4L249.8 243.9L250.2 246.4L250.6 248.9L251 249.9L251.4 246.9L251.8 244.6L252.2 244L252.6 246.1L253 248.5L253.4 248.7L253.8 246.9L254.2 244.4L254.6 243.6L255 246.2L255.4 248.5L255.8 249.1L256.2 247.1L256.6 244.2L257 243.1L257.4 245.5L257.8 248.7L258.2 248.7L258.6 246.5L259 244L259.4 243.2L259.8 244.9L260.2 248.6L260.6 248.4L261 246.5L261.4 243.4L261.8 243L262.2 245.2L262.6 248.1L263 248.7L263.4 246.1L263.8 243L264.2 243L264.6 245L265 247.8L265.4 248.4L265.8 246.1L266.2 243.9L266.6 242.5L267 244.8L267.4 247.6L267.8 248.8L268.2 246.1L268.6 243.3L269 242.7L269.4 245.4L269.8 247.7L270.2 248.2L270.6 245.9L271 242.5L271.4 242.6L271.8 244.8L272.2 247.4L272.6 248.6L273 245.4L273.4 242.4L273.8 242.2L274.2 244.7L274.6 247.5L275 248.1L275.4 245.5L275.9 242.9L276.3 241.8L276.7 244.6L277.1 247.8L277.5 248.2L277.9 245.9L278.3 242.4L278.7 241.8L279.1 244.7L279.5 248L279.9 247.6L280.3 245.5L280.7 242.1L281.1 241.7L281.5 243.6L281.9 247.2L282.3 248.3L282.7 245L283.1 242.5L283.5 241.4L283.9 244.1L284.3 246.5L284.7 247.4L285.1 245.2L285.5 241.5L285.9 240.3L286.3 244L286.7 246.8L287.1 247.7L287.5 244.9L287.9 242.1L288.3 241.4L288.7 243.2L289.1 246.8L289.5 247.6L289.9 244.2L290.3 241.3L290.7 240.7L291.1 243.9L291.5 247L291.9 247.1L292.3 245.5L292.7 241.8L293.1 240.9L293.5 243.1L293.9 247.9L294.3 249.9L294.7 246.7L295.1 240.9L295.5 237.7L295.9 241.5L296.3 256L296.7 257.5L297.1 249.9L297.5 235.5L297.9 235.3L298.3 244.8L298.7 256.9L299.1 258.9L299.5 249.7L299.9 240.3L300.3 238.5L300.7 243L301.1 255.5L301.5 256.7L301.9 248.6L302.3 240.4L302.7 236.9L303.1 246.4L303.5 256.3L303.9 257.6L304.3 249L304.7 238.5L305.1 236.4L305.5 245.6L305.9 256.1L306.3 256.7L306.7 246.7L307.1 237.1L307.5 236.9L307.9 244.9L308.3 254.6L308.7 256.4L309.1 247.8L309.5 237.5L309.9 236.2L310.3 245.6L310.7 258.6L311.1 257L311.5 248.6L311.9 240.4L312.3 237.2L312.7 245.9L313.1 256.7L313.5 256.2L313.9 249.9L314.4 235.7L314.8 237L315.2 246.4L315.6 255.4L316 254.5L316.4 249.5L316.8 239L317.2 240.2L317.6 244.9L318 257.8L318.4 258.4L318.8 247.9L319.2 239.1L319.6 236.2L320 245.9L320.4 256L320.8 257L321.2 248.1L321.6 239.7L322 237.7L322.4 246.8L322.8 258.3L323.2 257.7L323.6 249.7L324 239.6L324.4 236.6L324.8 244.8L325.2 257.1L325.6 258L326 249.4L326.4 238.9L326.8 239.1L327.2 246.5L327.6 257L328 257.9L328.4 250.1L328.8 240.7L329.2 235.4L329.6 245.8L330 257L330.4 257.5L330.8 248.8L331.2 240L331.6 238.5L332 246.6L332.4 255.4L332.8 258.2L333.2 249.1L333.6 242L334 238.1L334.4 246.3L334.8 257.4L335.2 260.9L335.6 250.3L336 237.8L336.4 237.2L336.8 246.5L337.2 257.4L337.6 260.2L338 249.7L338.4 240L338.8 237.7L339.2 245L339.6 255.2L340 257.8L340.4 251.9L340.8 239.5L341.2 235.7L341.6 247.4L342 255L342.4 258.2L342.8 248.8L343.2 240.5L343.6 239.2L344 247.2L344.4 255.3" fill="none" stroke="#0000ff" stroke-width="1.5" stroke-dasharray="5 1.3 2.5 1.3" stroke-linejoin="round" clip-path="url(#i3)"/>
<path d="M215.7 249.5L216.1 251L216.5 253L216.9 252.1L217.3 250.5L217.7 248L218.1 247.6L218.5 249.5L218.9 251.3L219.3 251.1L219.7 249.8L220.1 248.1L220.5 247.8L220.9 249.4L221.3 250.7L221.7 251L222.1 249.3L222.5 247.7L222.9 248.1L223.3 249.5L223.7 250.8L224.1 250.7L224.5 249.3L224.9 247.8L225.3 247.7L225.7 249.3L226.1 250.6L226.5 250.8L226.9 249L227.3 248L227.7 247.4L228.1 248.9L228.5 251L228.9 250.7L229.3 248.9L229.7 247.6L230.1 247.5L230.5 249L230.9 250.1L231.3 250.2L231.7 249.1L232.1 247.7L232.5 247.6L232.9 248.8L233.3 250.8L233.7 250.5L234.1 248.8L234.5 247.5L234.9 247.3L235.3 248.8L235.7 250.2L236.1 250.6L236.5 248.8L236.9 247.3L237.4 247.3L237.8 249L238.2 250.1L238.6 250.3L239 248.8L239.4 247.3L239.8 246.8L240.2 248.6L240.6 249.6L241 250L241.4 248.7L241.8 247.1L242.2 247.3L242.6 248.5L243 249.7L243.4 250L243.8 248.7L244.2 247.2L244.6 247L245 248.4L245.4 249.6L245.8 249.9L246.2 248.6L246.6 247.2L247 247L247.4 248.4L247.8 249.8L248.2 250L248.6 248.5L249 247.1L249.4 246.1L249.8 247.6L250.2 251.7L250.6 250.8L251 246.3L251.4 243.6L251.8 243.8L252.2 247.1L252.6 249.8L253 249.3L253.4 246L253.8 242.7L254.2 242.8L254.6 246.4L255 249.1L255.4 249.8L255.8 246.4L256.2 243.8L256.6 243.3L257 245.6L257.4 248.3L257.8 249.1L258.2 246.1L258.6 243.8L259 243.4L259.4 245.4L259.8 248.7L260.2 249L260.6 245.9L261 242.4L261.4 243.1L261.8 245.9L262.2 248L262.6 249.6L263 245.7L263.4 242.7L263.8 242L264.2 245.8L264.6 249.1L265 249.2L265.4 245.5L265.8 242.7L266.2 242.7L266.6 245.6L267 249.1L267.4 248.8L267.8 245.7L268.2 242.4L268.6 242L269 245.2L269.4 248.3L269.8 248.8L270.2 246.2L270.6 242.3L271 242.2L271.4 245.3L271.8 248.1L272.2 248.5L272.6 244.9L273 242.1L273.4 241.3L273.8 245.5L274.2 249.2L274.6 248.7L275 244L275.4 242L275.9 241.8L276.3 244.8L276.7 248.4L277.1 248.2L277.5 245L277.9 240.8L278.3 241.1L278.7 244.7L279.1 247.8L279.5 247.9L279.9 245.3L280.3 241.2L280.7 241.8L281.1 244.3L281.5 248L281.9 247.9L282.3 244.2L282.7 241.2L283.1 241.6L283.5 244.7L283.9 247.5L284.3 248L284.7 244.8L285.1 241.4L285.5 241.4L285.9 244.2L286.3 248L286.7 247.9L287.1 244.8L287.5 241.9L287.9 240.9L288.3 243.9L288.7 248L289.1 247.6L289.5 244.3L289.9 241.4L290.3 240.4L290.7 245L291.1 247.6L291.5 247.3L291.9 244.8L292.3 240L292.7 240.7L293.1 243.5L293.5 247.9L293.9 249.1L294.3 245.4L294.7 237.4L295.1 238.6L295.5 245.6L295.9 256.2L296.3 258.7L296.7 247.8L297.1 235.7L297.5 235.1L297.9 245.6L298.3 258.4L298.7 260.5L299.1 246.5L299.5 237.1L299.9 236.1L300.3 249.8L300.7 259.3L301.1 259.1L301.5 249.5L301.9 237.5L302.3 234.2L302.7 246.2L303.1 256.8L303.5 256.9L303.9 246.6L304.3 234.3L304.7 234.2L305.1 245.1L305.5 261.9L305.9 260.5L306.3 246.1L306.7 234.8L307.1 236.3L307.5 247.5L307.9 256.6L308.3 258.3L308.7 249.2L309.1 235L309.5 236.8L309.9 246.8L310.3 260.6L310.7 262.3L311.1 247L311.5 234.6L311.9 240.1L312.3 247.8L312.7 257.3L313.1 258.4L313.5 247.6L313.9 236.1L314.4 237L314.8 245.6L315.2 256.9L315.6 257.7L316 250.9L316.4 234.5L316.8 236.5L317.2 246.4L317.6 255.8L318 257L318.4 247.9L318.8 234.9L319.2 235.3L319.6 248L320 258.6L320.4 261.6L320.8 250L321.2 236.6L321.6 235L322 248.6L322.4 256.8L322.8 258.9L323.2 245.4L323.6 236.6L324 231.6L324.4 246.6L324.8 260L325.2 259.9L325.6 250.5L326 235.7L326.4 236.7L326.8 246.6L327.2 259.9L327.6 263.8L328 251.5L328.4 237.3L328.8 238.2L329.2 246.2L329.6 260.8L330 259.4L330.4 248.3L330.8 234L331.2 235.8L331.6 247.2L332 260.1L332.4 258.2L332.8 247.1L333.2 237.8L333.6 236.6L334 248.9L334.4 258.4L334.8 258L335.2 248.5L335.6 236L336 236.7L336.4 248.4L336.8 259.5L337.2 258.8L337.6 249.1L338 237.2L338.4 237.6L338.8 246.5L339.2 258.8L339.6 258.8L340 247.1L340.4 240L340.8 236.6L341.2 247.9L341.6 258.3L342 259.1L342.4 247.6L342.8 234.7L343.2 238.6L343.6 249.1L344 257.8L344.4 257.8" fill="none" stroke="#00ff00" stroke-width="1.5" stroke-dasharray="5 5.1" stroke-linejoin="round" clip-path="url(#i3)"/>
<path d="M215.7 249.7L216.1 250.9L216.5 254L216.9 255.5L217.3 253.9L217.7 249.7L218.1 247.7L218.5 249.3L218.9 253.5L219.3 255.2L219.7 252.4L220.1 249.2L220.5 248.2L220.9 249.2L221.3 252.1L221.7 253.4L222.1 251.8L222.5 249L222.9 248.1L223.3 249.5L223.7 251.7L224.1 252.5L224.5 251.9L224.9 248.5L225.3 247.7L225.7 249L226.1 251.4L226.5 253L226.9 251.4L227.3 249.1L227.7 247.7L228.1 248.6L228.5 251.4L228.9 251.9L229.3 250.9L229.7 248.5L230.1 248L230.5 248.4L230.9 251.4L231.3 252.3L231.7 251.1L232.1 249L232.5 248L232.9 249L233.3 250.7L233.7 251.5L234.1 250.9L234.5 248.3L234.9 247L235.3 248.1L235.7 251.3L236.1 252.2L236.5 250.9L236.9 248.4L237.4 247.3L237.8 248.3L238.2 250.5L238.6 251.3L239 250.6L239.4 248.5L239.8 247.4L240.2 248.1L240.6 250.4L241 251.3L241.4 250.7L241.8 248.3L242.2 246.5L242.6 248L243 250.8L243.4 251.2L243.8 250.3L244.2 248.4L244.6 247.3L245 248.4L245.4 250.5L245.8 251.7L246.2 250.6L246.6 248.2L247 247.1L247.4 247.9L247.8 249.9L248.2 251.1L248.6 250.2L249 248L249.4 245.9L249.8 244.3L250.2 253.9L250.6 256.9L251 251.6L251.4 244.3L251.8 241.8L252.2 245.2L252.6 249.4L253 251.3L253.4 249L253.8 244.1L254.2 244L254.6 243.8L255 248.9L255.4 252L255.8 249L256.2 245L256.6 243L257 244.6L257.4 248.9L257.8 252.7L258.2 249.2L258.6 244.6L259 241.9L259.4 244L259.8 249.2L260.2 250.9L260.6 248.6L261 244.6L261.4 243.4L261.8 244.2L262.2 248.9L262.6 250.7L263 249.5L263.4 243.8L263.8 242.7L264.2 244.5L264.6 247.8L265 251.3L265.4 248.5L265.8 243.7L266.2 241.5L266.6 244L267 248.7L267.4 250.3L267.8 247.5L268.2 243.5L268.6 241.7L269 242.7L269.4 248.1L269.8 249.5L270.2 247.5L270.6 243.9L271 240.2L271.4 243.4L271.8 248.7L272.2 250.9L272.6 248.3L273 242.8L273.4 240.4L273.8 243.1L274.2 247.8L274.6 252.5L275 248.5L275.4 242.7L275.9 239.7L276.3 242.3L276.7 247.9L277.1 249.1L277.5 247.8L277.9 243.1L278.3 241.3L278.7 243.3L279.1 247.8L279.5 250.8L279.9 248.5L280.3 242.5L280.7 241L281.1 243L281.5 249.2L281.9 250.3L282.3 248.9L282.7 242.1L283.1 240.1L283.5 242.7L283.9 248.1L284.3 251.6L284.7 247.9L285.1 243.1L285.5 240.1L285.9 241.9L286.3 247.2L286.7 250.3L287.1 248.2L287.5 242.5L287.9 238.7L288.3 241.3L288.7 248L289.1 248.8L289.5 247.5L289.9 243.6L290.3 238.9L290.7 240.9L291.1 247.2L291.5 249.5L291.9 247.1L292.3 243.3L292.7 241.4L293.1 242.9L293.5 247.4L293.9 252.4L294.3 250.6L294.7 240.6L295.1 233.8L295.5 243.1L295.9 257.8L296.3 267.5L296.7 258.4L297.1 242.1L297.5 221.5L297.9 236.9L298.3 255.9L298.7 267.6L299.1 255.4L299.5 241.9L299.9 230.2L300.3 239.4L300.7 255.5L301.1 261.5L301.5 256.3L301.9 240.6L302.3 238.3L302.7 239.3L303.1 256.1L303.5 259.3L303.9 255.7L304.3 245L304.7 230.8L305.1 241.5L305.5 259.2L305.9 267.6L306.3 255.7L306.7 235L307.1 229.2L307.5 238.8L307.9 256.5L308.3 265.1L308.7 256.8L309.1 241.6L309.5 234.9L309.9 239.6L310.3 259.2L310.7 262.4L311.1 255.7L311.5 238L311.9 232.1L312.3 241.1L312.7 256.5L313.1 264.8L313.5 257.6L313.9 241.9L314.4 233.2L314.8 242.6L315.2 257.7L315.6 265.1L316 257.6L316.4 243.8L316.8 232.6L317.2 241.2L317.6 256.3L318 264.9L318.4 255.6L318.8 241.4L319.2 231.9L319.6 240.9L320 257L320.4 261.8L320.8 257.4L321.2 243.8L321.6 236.5L322 242.8L322.4 255.9L322.8 263.8L323.2 255.1L323.6 240L324 234.2L324.4 242.2L324.8 257.2L325.2 261.2L325.6 257.2L326 243.1L326.4 234.6L326.8 240.9L327.2 257.7L327.6 265.7L328 255.4L328.4 241.6L328.8 231.7L329.2 240.3L329.6 256.6L330 263.5L330.4 256.5L330.8 244.8L331.2 241.4L331.6 246.8L332 255.6L332.4 261.7L332.8 256.7L333.2 244.1L333.6 234.4L334 242.6L334.4 257.7L334.8 266.3L335.2 259.3L335.6 244.4L336 235.9L336.4 240.7L336.8 255L337.2 265.6L337.6 257L338 243.3L338.4 236.3L338.8 243.2L339.2 255.4L339.6 263.9L340 253.7L340.4 245.1L340.8 241.3L341.2 241.5L341.6 257.9L342 263.8L342.4 258.1L342.8 242.6L343.2 241.7L343.6 243.9L344 259.1L344.4 260.9" fill="none" stroke="#000000" stroke-width="1.5" stroke-dasharray="5 1.3 2.5 1.3" stroke-linejoin="round" clip-path="url(#i3)"/>
<path d="M215.7 249L216.1 249.4L216.5 251L216.9 252.3L217.3 251.5L217.7 249.2L218.1 248L218.5 248.2L218.9 249.6L219.3 251L219.7 250.8L220.1 248.9L220.5 248.2L220.9 248L221.3 249.7L221.7 250.6L222.1 250.6L222.5 248.7L222.9 247.8L223.3 248.1L223.7 249.6L224.1 250.7L224.5 250.5L224.9 248.7L225.3 247.8L225.7 247.9L226.1 249.2L226.5 250.6L226.9 250.2L227.3 248.8L227.7 247.6L228.1 248.3L228.5 249.1L228.9 250.4L229.3 250.3L229.7 248.8L230.1 247.7L230.5 247.7L230.9 249.4L231.3 250.7L231.7 250.4L232.1 248.5L232.5 247.6L232.9 247.7L233.3 249.3L233.7 250.2L234.1 250.1L234.5 248.7L234.9 247.1L235.3 247.6L235.7 249.2L236.1 249.9L236.5 250.1L236.9 248.7L237.4 247.7L237.8 247.3L238.2 248.9L238.6 250.1L239 249.6L239.4 248.4L239.8 247.2L240.2 247.3L240.6 248.8L241 249.9L241.4 249.7L241.8 248.3L242.2 247L242.6 247.3L243 248.7L243.4 250.3L243.8 249.8L244.2 248.3L244.6 247.2L245 247.4L245.4 248.6L245.8 249.8L246.2 249.4L246.6 248.1L247 246.9L247.4 247.5L247.8 248.5L248.2 249.5L248.6 249.3L249 248.1L249.4 246.5L249.8 244.8L250.2 247.2L250.6 251.1L251 250.6L251.4 247.2L251.8 243.7L252.2 243.5L252.6 247.5L253 249.4L253.4 248.7L253.8 245.7L254.2 243L254.6 244.4L255 246.8L255.4 249.5L255.8 248.4L256.2 245.5L256.6 242.8L257 244.2L257.4 247L257.8 249.2L258.2 248.6L258.6 245.7L259 243.3L259.4 243.6L259.8 247.1L260.2 248.9L260.6 248.7L261 245.8L261.4 242.6L261.8 243.8L262.2 246.3L262.6 249.3L263 247.8L263.4 245L263.8 243L264.2 242.9L264.6 246.2L265 248.5L265.4 249.2L265.8 245.2L266.2 242.8L266.6 242.6L267 246.5L267.4 248.7L267.8 248.2L268.2 245.4L268.6 242.7L269 242.7L269.4 246.1L269.8 248.9L270.2 248.2L270.6 244.7L271 241.7L271.4 242.5L271.8 246.4L272.2 248.5L272.6 247.8L273 244L273.4 242.3L273.8 242L274.2 245.9L274.6 247.7L275 248.5L275.4 244.5L275.9 242.4L276.3 242.7L276.7 245.8L277.1 248.3L277.5 248L277.9 244.2L278.3 242.1L278.7 241.7L279.1 245.7L279.5 247.6L279.9 247L280.3 244.5L280.7 241L281.1 242.1L281.5 244.8L281.9 247.8L282.3 246.7L282.7 244.1L283.1 241.5L283.5 242.3L283.9 245.1L284.3 247.4L284.7 247L285.1 243.8L285.5 241L285.9 241.8L286.3 245.3L286.7 248.3L287.1 247.4L287.5 243.9L287.9 240.5L288.3 241.2L288.7 245.3L289.1 247.7L289.5 247.6L289.9 243.3L290.3 241.2L290.7 240.9L291.1 244.9L291.5 247.5L291.9 247L292.3 243.9L292.7 240.8L293.1 241.4L293.5 244.4L293.9 248.5L294.3 248.8L294.7 244.2L295.1 239.7L295.5 239.2L295.9 250.2L296.3 258.4L296.7 256.2L297.1 246.1L297.5 235.7L297.9 236.5L298.3 250L298.7 258.9L299.1 257.9L299.5 241.4L299.9 235.9L300.3 237.8L300.7 249.2L301.1 256.3L301.5 257L301.9 246.3L302.3 235.5L302.7 238.3L303.1 251.4L303.5 262L303.9 257.1L304.3 245.6L304.7 233.8L305.1 238.2L305.5 250L305.9 258.3L306.3 259.3L306.7 244.2L307.1 237.3L307.5 239.7L307.9 248.9L308.3 258.4L308.7 257.8L309.1 245.1L309.5 234.7L309.9 237.4L310.3 249.3L310.7 259.6L311.1 256.8L311.5 244.7L311.9 236.5L312.3 237.4L312.7 248.4L313.1 261.8L313.5 257.1L313.9 244.7L314.4 236.3L314.8 239.3L315.2 247.5L315.6 257.7L316 256L316.4 246.3L316.8 237.4L317.2 239L317.6 249.7L318 261.1L318.4 259.2L318.8 246.1L319.2 235.9L319.6 238.6L320 248.8L320.4 259.1L320.8 256.2L321.2 245.1L321.6 238.1L322 237.1L322.4 248L322.8 259.4L323.2 257.4L323.6 246.9L324 235.6L324.4 239.4L324.8 252L325.2 258.9L325.6 255.9L326 246L326.4 237.1L326.8 240L327.2 247.6L327.6 257.2L328 256.6L328.4 246.1L328.8 236.4L329.2 237.2L329.6 250.5L330 260.3L330.4 256.9L330.8 245.8L331.2 237.7L331.6 238.5L332 250.3L332.4 259.5L332.8 256.7L333.2 245.5L333.6 235L334 238.5L334.4 248.7L334.8 258.4L335.2 256.2L335.6 246.8L336 237.9L336.4 237.8L336.8 247.4L337.2 259L337.6 256.9L338 245.2L338.4 235.9L338.8 238.9L339.2 250.1L339.6 258.6L340 255.5L340.4 245.7L340.8 238.1L341.2 237.8L341.6 249.7L342 259.2L342.4 257.4L342.8 249.9L343.2 238.7L343.6 239.6L344 249.4L344.4 259.5" fill="none" stroke="#ff00ff" stroke-width="1.5" stroke-dasharray="1.2 1.5" stroke-linejoin="round" clip-path="url(#i3)"/>
<path d="M207.1 265.0v-1.4M207.1 227.4v1.4M241.5 265.0v-1.4M241.5 227.4v1.4M275.9 265.0v-1.4M275.9 227.4v1.4M310.2 265.0v-1.4M310.2 227.4v1.4M344.6 265.0v-1.4M344.6 227.4v1.4M207.1 232.6h1.4M344.6 232.6h-1.4M207.1 247.7h1.4M344.6 247.7h-1.4M207.1 262.8h1.4M344.6 262.8h-1.4" stroke="#8a8a8a" stroke-width="1" fill="none"/>
<rect x="207.1" y="227.4" width="137.50000000000003" height="37.599999999999994" fill="none" stroke="#8a8a8a" stroke-width="1"/>
<g font-size="5.5" fill="#222222" text-anchor="middle">
<text x="207.1" y="271.9">20</text>
<text x="241.5" y="271.9">40</text>
<text x="275.9" y="271.9">60</text>
<text x="310.2" y="271.9">80</text>
<text x="344.6" y="271.9">100</text>
</g>
<g font-size="5.5" fill="#222222" text-anchor="end">
<text x="205.5" y="235">0.05</text>
<text x="205.5" y="250.1">0</text>
<text x="205.5" y="265.2">-0.05</text>
</g>
<rect x="355.3" y="166.9" width="35.30000000000001" height="59.5" fill="#fff" stroke="#a0a0a0" stroke-width="0.8"/>
<path d="M357.7 173.3H377.2" stroke="#ff0000" stroke-width="1.8" fill="none"/>
<text x="379.6" y="175.9" font-family="'Liberation Serif','DejaVu Serif',serif" font-style="italic" font-size="11.3" fill="#1a1a1a">z<tspan font-style="normal" font-size="6.5" dx="0.3" dy="1.6">1</tspan></text>
<text x="380.2" y="171.9" font-family="'Liberation Serif','DejaVu Serif',serif" font-size="8" fill="#1a1a1a">~</text>
<path d="M357.7 184.9H377.2" stroke="#0000ff" stroke-width="1.8" stroke-dasharray="5 1.3 2.5 1.3" fill="none"/>
<text x="379.6" y="187.5" font-family="'Liberation Serif','DejaVu Serif',serif" font-style="italic" font-size="11.3" fill="#1a1a1a">z<tspan font-style="normal" font-size="6.5" dx="0.3" dy="1.6">2</tspan></text>
<text x="380.2" y="183.5" font-family="'Liberation Serif','DejaVu Serif',serif" font-size="8" fill="#1a1a1a">~</text>
<path d="M357.7 196.7H377.2" stroke="#00ff00" stroke-width="1.8" stroke-dasharray="5 5.1" fill="none"/>
<text x="379.6" y="199.3" font-family="'Liberation Serif','DejaVu Serif',serif" font-style="italic" font-size="11.3" fill="#1a1a1a">z<tspan font-style="normal" font-size="6.5" dx="0.3" dy="1.6">3</tspan></text>
<text x="380.2" y="195.3" font-family="'Liberation Serif','DejaVu Serif',serif" font-size="8" fill="#1a1a1a">~</text>
<path d="M357.7 208.6H377.2" stroke="#000000" stroke-width="1.8" stroke-dasharray="5 1.3 2.5 1.3" fill="none"/>
<text x="379.6" y="211.2" font-family="'Liberation Serif','DejaVu Serif',serif" font-style="italic" font-size="11.3" fill="#1a1a1a">z<tspan font-style="normal" font-size="6.5" dx="0.3" dy="1.6">4</tspan></text>
<text x="380.2" y="207.2" font-family="'Liberation Serif','DejaVu Serif',serif" font-size="8" fill="#1a1a1a">~</text>
<path d="M357.7 220.4H377.2" stroke="#ff00ff" stroke-width="1.8" stroke-dasharray="1.4 1.2" fill="none"/>
<text x="379.6" y="223" font-family="'Liberation Serif','DejaVu Serif',serif" font-style="italic" font-size="11.3" fill="#1a1a1a">z<tspan font-style="normal" font-size="6.5" dx="0.3" dy="1.6">5</tspan></text>
<text x="380.2" y="219" font-family="'Liberation Serif','DejaVu Serif',serif" font-size="8" fill="#1a1a1a">~</text>
</svg>
</body></html>
